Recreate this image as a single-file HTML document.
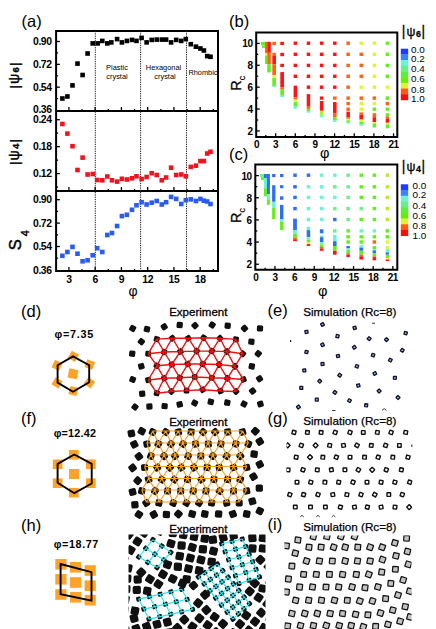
<!DOCTYPE html>
<html><head><meta charset="utf-8"><style>
html,body{margin:0;padding:0;background:#fff;}
svg{display:block;}
</style></head><body>
<svg width="436" height="629" viewBox="0 0 436 629">
<rect width="436" height="629" fill="#fff"/>
<text x="21.50" y="27.00" font-family="Liberation Sans" font-size="16.5" font-weight="normal" text-anchor="start" fill="#000" >(a)</text>
<path d="M56.1 271 V31 H218.0 V271 Z" fill="none" stroke="#000" stroke-width="2"/>
<line x1="56.10" y1="111.00" x2="218.00" y2="111.00" stroke="#000" stroke-width="2" />
<line x1="56.10" y1="191.00" x2="218.00" y2="191.00" stroke="#000" stroke-width="2" />
<line x1="95.30" y1="31.00" x2="95.30" y2="271.00" stroke="#222" stroke-width="1" stroke-dasharray="1.3 1"/>
<line x1="140.60" y1="31.00" x2="140.60" y2="271.00" stroke="#222" stroke-width="1" stroke-dasharray="1.3 1"/>
<line x1="186.50" y1="31.00" x2="186.50" y2="271.00" stroke="#222" stroke-width="1" stroke-dasharray="1.3 1"/>
<line x1="68.90" y1="111.00" x2="68.90" y2="107.00" stroke="#000" stroke-width="1.3" />
<line x1="95.16" y1="111.00" x2="95.16" y2="107.00" stroke="#000" stroke-width="1.3" />
<line x1="121.42" y1="111.00" x2="121.42" y2="107.00" stroke="#000" stroke-width="1.3" />
<line x1="147.68" y1="111.00" x2="147.68" y2="107.00" stroke="#000" stroke-width="1.3" />
<line x1="173.94" y1="111.00" x2="173.94" y2="107.00" stroke="#000" stroke-width="1.3" />
<line x1="200.20" y1="111.00" x2="200.20" y2="107.00" stroke="#000" stroke-width="1.3" />
<line x1="82.03" y1="111.00" x2="82.03" y2="109.00" stroke="#000" stroke-width="1.3" />
<line x1="108.29" y1="111.00" x2="108.29" y2="109.00" stroke="#000" stroke-width="1.3" />
<line x1="134.55" y1="111.00" x2="134.55" y2="109.00" stroke="#000" stroke-width="1.3" />
<line x1="160.81" y1="111.00" x2="160.81" y2="109.00" stroke="#000" stroke-width="1.3" />
<line x1="187.07" y1="111.00" x2="187.07" y2="109.00" stroke="#000" stroke-width="1.3" />
<line x1="213.32" y1="111.00" x2="213.32" y2="109.00" stroke="#000" stroke-width="1.3" />
<line x1="68.90" y1="191.00" x2="68.90" y2="187.00" stroke="#000" stroke-width="1.3" />
<line x1="95.16" y1="191.00" x2="95.16" y2="187.00" stroke="#000" stroke-width="1.3" />
<line x1="121.42" y1="191.00" x2="121.42" y2="187.00" stroke="#000" stroke-width="1.3" />
<line x1="147.68" y1="191.00" x2="147.68" y2="187.00" stroke="#000" stroke-width="1.3" />
<line x1="173.94" y1="191.00" x2="173.94" y2="187.00" stroke="#000" stroke-width="1.3" />
<line x1="200.20" y1="191.00" x2="200.20" y2="187.00" stroke="#000" stroke-width="1.3" />
<line x1="82.03" y1="191.00" x2="82.03" y2="189.00" stroke="#000" stroke-width="1.3" />
<line x1="108.29" y1="191.00" x2="108.29" y2="189.00" stroke="#000" stroke-width="1.3" />
<line x1="134.55" y1="191.00" x2="134.55" y2="189.00" stroke="#000" stroke-width="1.3" />
<line x1="160.81" y1="191.00" x2="160.81" y2="189.00" stroke="#000" stroke-width="1.3" />
<line x1="187.07" y1="191.00" x2="187.07" y2="189.00" stroke="#000" stroke-width="1.3" />
<line x1="213.32" y1="191.00" x2="213.32" y2="189.00" stroke="#000" stroke-width="1.3" />
<line x1="68.90" y1="271.00" x2="68.90" y2="267.00" stroke="#000" stroke-width="1.3" />
<line x1="95.16" y1="271.00" x2="95.16" y2="267.00" stroke="#000" stroke-width="1.3" />
<line x1="121.42" y1="271.00" x2="121.42" y2="267.00" stroke="#000" stroke-width="1.3" />
<line x1="147.68" y1="271.00" x2="147.68" y2="267.00" stroke="#000" stroke-width="1.3" />
<line x1="173.94" y1="271.00" x2="173.94" y2="267.00" stroke="#000" stroke-width="1.3" />
<line x1="200.20" y1="271.00" x2="200.20" y2="267.00" stroke="#000" stroke-width="1.3" />
<line x1="82.03" y1="271.00" x2="82.03" y2="269.00" stroke="#000" stroke-width="1.3" />
<line x1="108.29" y1="271.00" x2="108.29" y2="269.00" stroke="#000" stroke-width="1.3" />
<line x1="134.55" y1="271.00" x2="134.55" y2="269.00" stroke="#000" stroke-width="1.3" />
<line x1="160.81" y1="271.00" x2="160.81" y2="269.00" stroke="#000" stroke-width="1.3" />
<line x1="187.07" y1="271.00" x2="187.07" y2="269.00" stroke="#000" stroke-width="1.3" />
<line x1="213.32" y1="271.00" x2="213.32" y2="269.00" stroke="#000" stroke-width="1.3" />
<line x1="56.10" y1="41.50" x2="59.90" y2="41.50" stroke="#000" stroke-width="1.3" />
<text x="51.50" y="45.10" font-family="Liberation Sans" font-size="10.4" font-weight="bold" text-anchor="end" fill="#000" letter-spacing="-0.45">0.90</text>
<line x1="56.10" y1="64.35" x2="59.90" y2="64.35" stroke="#000" stroke-width="1.3" />
<text x="51.50" y="67.95" font-family="Liberation Sans" font-size="10.4" font-weight="bold" text-anchor="end" fill="#000" letter-spacing="-0.45">0.72</text>
<line x1="56.10" y1="87.20" x2="59.90" y2="87.20" stroke="#000" stroke-width="1.3" />
<text x="51.50" y="90.80" font-family="Liberation Sans" font-size="10.4" font-weight="bold" text-anchor="end" fill="#000" letter-spacing="-0.45">0.54</text>
<line x1="56.10" y1="52.92" x2="58.10" y2="52.92" stroke="#000" stroke-width="1.3" />
<line x1="56.10" y1="75.78" x2="58.10" y2="75.78" stroke="#000" stroke-width="1.3" />
<line x1="56.10" y1="98.62" x2="58.10" y2="98.62" stroke="#000" stroke-width="1.3" />
<text x="51.50" y="113.30" font-family="Liberation Sans" font-size="10.4" font-weight="bold" text-anchor="end" fill="#000" letter-spacing="-0.45">0.36</text>
<line x1="56.10" y1="119.70" x2="59.90" y2="119.70" stroke="#000" stroke-width="1.3" />
<text x="51.50" y="123.30" font-family="Liberation Sans" font-size="10.4" font-weight="bold" text-anchor="end" fill="#000" letter-spacing="-0.45">0.24</text>
<line x1="56.10" y1="146.65" x2="59.90" y2="146.65" stroke="#000" stroke-width="1.3" />
<text x="51.50" y="150.25" font-family="Liberation Sans" font-size="10.4" font-weight="bold" text-anchor="end" fill="#000" letter-spacing="-0.45">0.18</text>
<line x1="56.10" y1="173.60" x2="59.90" y2="173.60" stroke="#000" stroke-width="1.3" />
<text x="51.50" y="177.20" font-family="Liberation Sans" font-size="10.4" font-weight="bold" text-anchor="end" fill="#000" letter-spacing="-0.45">0.12</text>
<line x1="56.10" y1="133.18" x2="58.10" y2="133.18" stroke="#000" stroke-width="1.3" />
<line x1="56.10" y1="160.12" x2="58.10" y2="160.12" stroke="#000" stroke-width="1.3" />
<line x1="56.10" y1="187.07" x2="58.10" y2="187.07" stroke="#000" stroke-width="1.3" />
<line x1="56.10" y1="199.70" x2="59.90" y2="199.70" stroke="#000" stroke-width="1.3" />
<text x="51.50" y="203.30" font-family="Liberation Sans" font-size="10.4" font-weight="bold" text-anchor="end" fill="#000" letter-spacing="-0.45">0.90</text>
<line x1="56.10" y1="223.10" x2="59.90" y2="223.10" stroke="#000" stroke-width="1.3" />
<text x="51.50" y="226.70" font-family="Liberation Sans" font-size="10.4" font-weight="bold" text-anchor="end" fill="#000" letter-spacing="-0.45">0.72</text>
<line x1="56.10" y1="246.50" x2="59.90" y2="246.50" stroke="#000" stroke-width="1.3" />
<text x="51.50" y="250.10" font-family="Liberation Sans" font-size="10.4" font-weight="bold" text-anchor="end" fill="#000" letter-spacing="-0.45">0.54</text>
<text x="51.50" y="273.50" font-family="Liberation Sans" font-size="10.4" font-weight="bold" text-anchor="end" fill="#000" letter-spacing="-0.45">0.36</text>
<line x1="56.10" y1="211.40" x2="58.10" y2="211.40" stroke="#000" stroke-width="1.3" />
<line x1="56.10" y1="234.80" x2="58.10" y2="234.80" stroke="#000" stroke-width="1.3" />
<line x1="56.10" y1="258.20" x2="58.10" y2="258.20" stroke="#000" stroke-width="1.3" />
<text x="68.90" y="282.80" font-family="Liberation Sans" font-size="10.4" font-weight="bold" text-anchor="middle" fill="#000" letter-spacing="-0.45">3</text>
<text x="95.16" y="282.80" font-family="Liberation Sans" font-size="10.4" font-weight="bold" text-anchor="middle" fill="#000" letter-spacing="-0.45">6</text>
<text x="121.42" y="282.80" font-family="Liberation Sans" font-size="10.4" font-weight="bold" text-anchor="middle" fill="#000" letter-spacing="-0.45">9</text>
<text x="147.68" y="282.80" font-family="Liberation Sans" font-size="10.4" font-weight="bold" text-anchor="middle" fill="#000" letter-spacing="-0.45">12</text>
<text x="173.94" y="282.80" font-family="Liberation Sans" font-size="10.4" font-weight="bold" text-anchor="middle" fill="#000" letter-spacing="-0.45">15</text>
<text x="200.20" y="282.80" font-family="Liberation Sans" font-size="10.4" font-weight="bold" text-anchor="middle" fill="#000" letter-spacing="-0.45">18</text>
<text x="133.00" y="295.50" font-family="Liberation Sans" font-size="14" font-weight="normal" text-anchor="middle" fill="#000" >φ</text>
<text transform="translate(18.8,88.5) rotate(-90)" font-family="Liberation Sans" font-size="13.5" letter-spacing="1.1" stroke="#000" stroke-width="0.35">|<tspan font-size="14.5">ψ</tspan><tspan font-size="9.5" font-weight="bold">6</tspan>|</text>
<text transform="translate(18.8,165) rotate(-90)" font-family="Liberation Sans" font-size="13.5" letter-spacing="1.1" stroke="#000" stroke-width="0.35">|<tspan font-size="14.5">ψ</tspan><tspan font-size="9.5" font-weight="bold">4</tspan>|</text>
<text transform="translate(20.8,250.3) rotate(-90)" font-family="Liberation Sans" font-size="16.5" stroke="#000" stroke-width="0.45">S<tspan font-size="10.5" dx="3" dy="8.2">4</tspan></text>
<text x="117.00" y="69.50" font-family="Liberation Sans" font-size="7.4" font-weight="normal" text-anchor="middle" fill="#000" >Plastic</text>
<text x="117.00" y="79.00" font-family="Liberation Sans" font-size="7.4" font-weight="normal" text-anchor="middle" fill="#000" >crystal</text>
<text x="163.50" y="70.30" font-family="Liberation Sans" font-size="7.4" font-weight="normal" text-anchor="middle" fill="#000" >Hexagonal</text>
<text x="165.00" y="79.20" font-family="Liberation Sans" font-size="7.4" font-weight="normal" text-anchor="middle" fill="#000" >crystal</text>
<text x="203.00" y="74.50" font-family="Liberation Sans" font-size="7.4" font-weight="normal" text-anchor="middle" fill="#000" >Rhombic</text>
<rect x="60.10" y="96.20" width="4.60" height="4.60" fill="#000" />
<rect x="65.10" y="94.20" width="4.60" height="4.60" fill="#000" />
<rect x="70.20" y="83.10" width="4.60" height="4.60" fill="#000" />
<rect x="75.20" y="61.30" width="4.60" height="4.60" fill="#000" />
<rect x="80.30" y="72.70" width="4.60" height="4.60" fill="#000" />
<rect x="85.30" y="51.20" width="4.60" height="4.60" fill="#000" />
<rect x="90.40" y="41.10" width="4.60" height="4.60" fill="#000" />
<rect x="95.40" y="41.10" width="4.60" height="4.60" fill="#000" />
<rect x="100.00" y="38.60" width="4.60" height="4.60" fill="#000" />
<rect x="105.00" y="41.10" width="4.60" height="4.60" fill="#000" />
<rect x="109.00" y="40.10" width="4.60" height="4.60" fill="#000" />
<rect x="114.80" y="36.80" width="4.60" height="4.60" fill="#000" />
<rect x="119.60" y="40.10" width="4.60" height="4.60" fill="#000" />
<rect x="124.60" y="38.60" width="4.60" height="4.60" fill="#000" />
<rect x="129.70" y="37.60" width="4.60" height="4.60" fill="#000" />
<rect x="134.20" y="38.60" width="4.60" height="4.60" fill="#000" />
<rect x="139.30" y="35.60" width="4.60" height="4.60" fill="#000" />
<rect x="144.30" y="40.10" width="4.60" height="4.60" fill="#000" />
<rect x="149.40" y="37.60" width="4.60" height="4.60" fill="#000" />
<rect x="154.40" y="37.30" width="4.60" height="4.60" fill="#000" />
<rect x="159.50" y="37.30" width="4.60" height="4.60" fill="#000" />
<rect x="163.80" y="37.30" width="4.60" height="4.60" fill="#000" />
<rect x="168.80" y="40.10" width="4.60" height="4.60" fill="#000" />
<rect x="173.90" y="37.60" width="4.60" height="4.60" fill="#000" />
<rect x="178.90" y="38.60" width="4.60" height="4.60" fill="#000" />
<rect x="183.50" y="36.80" width="4.60" height="4.60" fill="#000" />
<rect x="188.50" y="41.90" width="4.60" height="4.60" fill="#000" />
<rect x="193.60" y="44.40" width="4.60" height="4.60" fill="#000" />
<rect x="198.10" y="46.20" width="4.60" height="4.60" fill="#000" />
<rect x="201.60" y="48.20" width="4.60" height="4.60" fill="#000" />
<rect x="204.90" y="53.80" width="4.60" height="4.60" fill="#000" />
<rect x="208.20" y="54.50" width="4.60" height="4.60" fill="#000" />
<rect x="60.10" y="121.70" width="4.60" height="4.60" fill="#f0141e" />
<rect x="65.10" y="131.30" width="4.60" height="4.60" fill="#f0141e" />
<rect x="70.20" y="143.90" width="4.60" height="4.60" fill="#f0141e" />
<rect x="80.30" y="155.30" width="4.60" height="4.60" fill="#f0141e" />
<rect x="75.20" y="167.70" width="4.60" height="4.60" fill="#f0141e" />
<rect x="85.30" y="172.20" width="4.60" height="4.60" fill="#f0141e" />
<rect x="90.40" y="171.70" width="4.60" height="4.60" fill="#f0141e" />
<rect x="94.90" y="177.70" width="4.60" height="4.60" fill="#f0141e" />
<rect x="100.00" y="178.00" width="4.60" height="4.60" fill="#f0141e" />
<rect x="105.00" y="174.20" width="4.60" height="4.60" fill="#f0141e" />
<rect x="109.70" y="178.00" width="4.60" height="4.60" fill="#f0141e" />
<rect x="114.80" y="179.30" width="4.60" height="4.60" fill="#f0141e" />
<rect x="119.60" y="176.50" width="4.60" height="4.60" fill="#f0141e" />
<rect x="124.60" y="177.20" width="4.60" height="4.60" fill="#f0141e" />
<rect x="129.70" y="176.00" width="4.60" height="4.60" fill="#f0141e" />
<rect x="134.20" y="174.00" width="4.60" height="4.60" fill="#f0141e" />
<rect x="139.30" y="176.70" width="4.60" height="4.60" fill="#f0141e" />
<rect x="144.30" y="174.70" width="4.60" height="4.60" fill="#f0141e" />
<rect x="149.40" y="170.90" width="4.60" height="4.60" fill="#f0141e" />
<rect x="154.40" y="172.70" width="4.60" height="4.60" fill="#f0141e" />
<rect x="159.50" y="178.00" width="4.60" height="4.60" fill="#f0141e" />
<rect x="163.80" y="175.20" width="4.60" height="4.60" fill="#f0141e" />
<rect x="168.80" y="165.40" width="4.60" height="4.60" fill="#f0141e" />
<rect x="173.90" y="172.70" width="4.60" height="4.60" fill="#f0141e" />
<rect x="178.90" y="172.20" width="4.60" height="4.60" fill="#f0141e" />
<rect x="183.50" y="174.00" width="4.60" height="4.60" fill="#f0141e" />
<rect x="188.50" y="164.60" width="4.60" height="4.60" fill="#f0141e" />
<rect x="193.60" y="163.40" width="4.60" height="4.60" fill="#f0141e" />
<rect x="198.10" y="158.80" width="4.60" height="4.60" fill="#f0141e" />
<rect x="201.60" y="158.80" width="4.60" height="4.60" fill="#f0141e" />
<rect x="204.90" y="151.20" width="4.60" height="4.60" fill="#f0141e" />
<rect x="208.20" y="149.50" width="4.60" height="4.60" fill="#f0141e" />
<rect x="60.10" y="253.50" width="4.60" height="4.60" fill="#2a5cf0" />
<rect x="65.10" y="249.70" width="4.60" height="4.60" fill="#2a5cf0" />
<rect x="70.20" y="244.60" width="4.60" height="4.60" fill="#2a5cf0" />
<rect x="75.20" y="251.40" width="4.60" height="4.60" fill="#2a5cf0" />
<rect x="80.30" y="259.00" width="4.60" height="4.60" fill="#2a5cf0" />
<rect x="85.30" y="258.00" width="4.60" height="4.60" fill="#2a5cf0" />
<rect x="90.40" y="253.00" width="4.60" height="4.60" fill="#2a5cf0" />
<rect x="94.90" y="245.90" width="4.60" height="4.60" fill="#2a5cf0" />
<rect x="100.00" y="249.70" width="4.60" height="4.60" fill="#2a5cf0" />
<rect x="105.00" y="232.70" width="4.60" height="4.60" fill="#2a5cf0" />
<rect x="109.70" y="230.70" width="4.60" height="4.60" fill="#2a5cf0" />
<rect x="114.80" y="223.70" width="4.60" height="4.60" fill="#2a5cf0" />
<rect x="119.60" y="213.80" width="4.60" height="4.60" fill="#2a5cf0" />
<rect x="124.60" y="212.50" width="4.60" height="4.60" fill="#2a5cf0" />
<rect x="129.70" y="207.50" width="4.60" height="4.60" fill="#2a5cf0" />
<rect x="134.20" y="203.00" width="4.60" height="4.60" fill="#2a5cf0" />
<rect x="139.30" y="199.90" width="4.60" height="4.60" fill="#2a5cf0" />
<rect x="144.30" y="202.20" width="4.60" height="4.60" fill="#2a5cf0" />
<rect x="149.40" y="200.40" width="4.60" height="4.60" fill="#2a5cf0" />
<rect x="154.40" y="198.70" width="4.60" height="4.60" fill="#2a5cf0" />
<rect x="159.50" y="202.20" width="4.60" height="4.60" fill="#2a5cf0" />
<rect x="163.80" y="199.90" width="4.60" height="4.60" fill="#2a5cf0" />
<rect x="168.80" y="194.60" width="4.60" height="4.60" fill="#2a5cf0" />
<rect x="173.90" y="196.60" width="4.60" height="4.60" fill="#2a5cf0" />
<rect x="178.90" y="201.70" width="4.60" height="4.60" fill="#2a5cf0" />
<rect x="183.50" y="197.90" width="4.60" height="4.60" fill="#2a5cf0" />
<rect x="188.50" y="197.10" width="4.60" height="4.60" fill="#2a5cf0" />
<rect x="193.60" y="198.70" width="4.60" height="4.60" fill="#2a5cf0" />
<rect x="198.10" y="196.60" width="4.60" height="4.60" fill="#2a5cf0" />
<rect x="201.60" y="198.40" width="4.60" height="4.60" fill="#2a5cf0" />
<rect x="204.90" y="199.20" width="4.60" height="4.60" fill="#2a5cf0" />
<rect x="208.20" y="201.70" width="4.60" height="4.60" fill="#2a5cf0" />
<path d="M256.2 136.9 V32.5 H397.3 V136.9 Z" fill="none" stroke="#000" stroke-width="2"/>
<line x1="256.20" y1="130.92" x2="259.80" y2="130.92" stroke="#000" stroke-width="1.3" />
<text x="252.60" y="134.82" font-family="Liberation Sans" font-size="10" font-weight="bold" text-anchor="end" fill="#000" letter-spacing="-0.45">2</text>
<line x1="256.20" y1="119.98" x2="258.20" y2="119.98" stroke="#000" stroke-width="1.3" />
<line x1="256.20" y1="109.04" x2="259.80" y2="109.04" stroke="#000" stroke-width="1.3" />
<text x="252.60" y="112.94" font-family="Liberation Sans" font-size="10" font-weight="bold" text-anchor="end" fill="#000" letter-spacing="-0.45">4</text>
<line x1="256.20" y1="98.10" x2="258.20" y2="98.10" stroke="#000" stroke-width="1.3" />
<line x1="256.20" y1="87.16" x2="259.80" y2="87.16" stroke="#000" stroke-width="1.3" />
<text x="252.60" y="91.06" font-family="Liberation Sans" font-size="10" font-weight="bold" text-anchor="end" fill="#000" letter-spacing="-0.45">6</text>
<line x1="256.20" y1="76.22" x2="258.20" y2="76.22" stroke="#000" stroke-width="1.3" />
<line x1="256.20" y1="65.28" x2="259.80" y2="65.28" stroke="#000" stroke-width="1.3" />
<text x="252.60" y="69.18" font-family="Liberation Sans" font-size="10" font-weight="bold" text-anchor="end" fill="#000" letter-spacing="-0.45">8</text>
<line x1="256.20" y1="54.34" x2="258.20" y2="54.34" stroke="#000" stroke-width="1.3" />
<line x1="256.20" y1="43.40" x2="259.80" y2="43.40" stroke="#000" stroke-width="1.3" />
<text x="252.60" y="47.30" font-family="Liberation Sans" font-size="10" font-weight="bold" text-anchor="end" fill="#000" letter-spacing="-0.45">10</text>
<line x1="275.65" y1="136.90" x2="275.65" y2="133.30" stroke="#000" stroke-width="1.3" />
<line x1="295.30" y1="136.90" x2="295.30" y2="133.30" stroke="#000" stroke-width="1.3" />
<line x1="314.95" y1="136.90" x2="314.95" y2="133.30" stroke="#000" stroke-width="1.3" />
<line x1="334.60" y1="136.90" x2="334.60" y2="133.30" stroke="#000" stroke-width="1.3" />
<line x1="354.25" y1="136.90" x2="354.25" y2="133.30" stroke="#000" stroke-width="1.3" />
<line x1="373.90" y1="136.90" x2="373.90" y2="133.30" stroke="#000" stroke-width="1.3" />
<line x1="393.55" y1="136.90" x2="393.55" y2="133.30" stroke="#000" stroke-width="1.3" />
<line x1="265.82" y1="136.90" x2="265.82" y2="134.90" stroke="#000" stroke-width="1.3" />
<line x1="285.48" y1="136.90" x2="285.48" y2="134.90" stroke="#000" stroke-width="1.3" />
<line x1="305.12" y1="136.90" x2="305.12" y2="134.90" stroke="#000" stroke-width="1.3" />
<line x1="324.77" y1="136.90" x2="324.77" y2="134.90" stroke="#000" stroke-width="1.3" />
<line x1="344.43" y1="136.90" x2="344.43" y2="134.90" stroke="#000" stroke-width="1.3" />
<line x1="364.07" y1="136.90" x2="364.07" y2="134.90" stroke="#000" stroke-width="1.3" />
<line x1="383.73" y1="136.90" x2="383.73" y2="134.90" stroke="#000" stroke-width="1.3" />
<text x="256.50" y="148.10" font-family="Liberation Sans" font-size="10" font-weight="bold" text-anchor="middle" fill="#000" letter-spacing="-0.45">0</text>
<text x="275.65" y="148.10" font-family="Liberation Sans" font-size="10" font-weight="bold" text-anchor="middle" fill="#000" letter-spacing="-0.45">3</text>
<text x="295.30" y="148.10" font-family="Liberation Sans" font-size="10" font-weight="bold" text-anchor="middle" fill="#000" letter-spacing="-0.45">6</text>
<text x="314.95" y="148.10" font-family="Liberation Sans" font-size="10" font-weight="bold" text-anchor="middle" fill="#000" letter-spacing="-0.45">9</text>
<text x="334.60" y="148.10" font-family="Liberation Sans" font-size="10" font-weight="bold" text-anchor="middle" fill="#000" letter-spacing="-0.45">12</text>
<text x="354.25" y="148.10" font-family="Liberation Sans" font-size="10" font-weight="bold" text-anchor="middle" fill="#000" letter-spacing="-0.45">15</text>
<text x="373.90" y="148.10" font-family="Liberation Sans" font-size="10" font-weight="bold" text-anchor="middle" fill="#000" letter-spacing="-0.45">18</text>
<text x="393.55" y="148.10" font-family="Liberation Sans" font-size="10" font-weight="bold" text-anchor="middle" fill="#000" letter-spacing="-0.45">21</text>
<text x="229.00" y="27.00" font-family="Liberation Sans" font-size="16.5" font-weight="normal" text-anchor="start" fill="#000" >(b)</text>
<text x="324.60" y="158.10" font-family="Liberation Sans" font-size="14.5" font-weight="normal" text-anchor="middle" fill="#000" >φ</text>
<text transform="translate(240.5,90.7) rotate(-90)" font-family="Liberation Sans" font-size="14.5" stroke="#000" stroke-width="0.3">R<tspan font-size="9" stroke-width="0.15" dx="0" dy="4.3">c</tspan></text>
<rect x="400.80" y="48.70" width="7.40" height="5.99" fill="#1e3cff" />
<rect x="400.80" y="54.39" width="7.40" height="5.99" fill="#3c82ff" />
<rect x="400.80" y="60.08" width="7.40" height="5.99" fill="#66f7d2" />
<rect x="400.80" y="65.77" width="7.40" height="5.99" fill="#66f08c" />
<rect x="400.80" y="71.46" width="7.40" height="5.99" fill="#5af040" />
<rect x="400.80" y="77.14" width="7.40" height="5.99" fill="#64f000" />
<rect x="400.80" y="82.83" width="7.40" height="5.99" fill="#dcf532" />
<rect x="400.80" y="88.52" width="7.40" height="5.99" fill="#ff5a14" />
<rect x="400.80" y="94.21" width="7.40" height="5.99" fill="#ff0a0a" />
<text x="411.00" y="53.00" font-family="Liberation Sans" font-size="9.9" font-weight="normal" text-anchor="start" fill="#000" >0.0</text>
<text x="411.00" y="62.10" font-family="Liberation Sans" font-size="9.9" font-weight="normal" text-anchor="start" fill="#000" >0.2</text>
<text x="411.00" y="72.40" font-family="Liberation Sans" font-size="9.9" font-weight="normal" text-anchor="start" fill="#000" >0.4</text>
<text x="411.00" y="82.20" font-family="Liberation Sans" font-size="9.9" font-weight="normal" text-anchor="start" fill="#000" >0.6</text>
<text x="411.00" y="92.50" font-family="Liberation Sans" font-size="9.9" font-weight="normal" text-anchor="start" fill="#000" >0.8</text>
<text x="411.00" y="101.80" font-family="Liberation Sans" font-size="9.9" font-weight="normal" text-anchor="start" fill="#000" >1.0</text>
<text x="401.8" y="35.5" font-family="Liberation Sans" font-size="13.8" stroke="#000" stroke-width="0.3">|<tspan font-size="12.5" dx="1.0">ψ</tspan><tspan font-size="8.8" font-weight="bold" dx="0.8" dy="1.2">6</tspan><tspan dx="0.6" dy="-1.2">|</tspan></text>
<path d="M255.3 269.7 V164.5 H397.3 V269.7 Z" fill="none" stroke="#000" stroke-width="2"/>
<line x1="255.30" y1="264.24" x2="258.90" y2="264.24" stroke="#000" stroke-width="1.3" />
<text x="251.70" y="268.14" font-family="Liberation Sans" font-size="10" font-weight="bold" text-anchor="end" fill="#000" letter-spacing="-0.45">2</text>
<line x1="255.30" y1="253.16" x2="257.30" y2="253.16" stroke="#000" stroke-width="1.3" />
<line x1="255.30" y1="242.08" x2="258.90" y2="242.08" stroke="#000" stroke-width="1.3" />
<text x="251.70" y="245.98" font-family="Liberation Sans" font-size="10" font-weight="bold" text-anchor="end" fill="#000" letter-spacing="-0.45">4</text>
<line x1="255.30" y1="231.00" x2="257.30" y2="231.00" stroke="#000" stroke-width="1.3" />
<line x1="255.30" y1="219.92" x2="258.90" y2="219.92" stroke="#000" stroke-width="1.3" />
<text x="251.70" y="223.82" font-family="Liberation Sans" font-size="10" font-weight="bold" text-anchor="end" fill="#000" letter-spacing="-0.45">6</text>
<line x1="255.30" y1="208.84" x2="257.30" y2="208.84" stroke="#000" stroke-width="1.3" />
<line x1="255.30" y1="197.76" x2="258.90" y2="197.76" stroke="#000" stroke-width="1.3" />
<text x="251.70" y="201.66" font-family="Liberation Sans" font-size="10" font-weight="bold" text-anchor="end" fill="#000" letter-spacing="-0.45">8</text>
<line x1="255.30" y1="186.68" x2="257.30" y2="186.68" stroke="#000" stroke-width="1.3" />
<line x1="255.30" y1="175.60" x2="258.90" y2="175.60" stroke="#000" stroke-width="1.3" />
<text x="251.70" y="179.50" font-family="Liberation Sans" font-size="10" font-weight="bold" text-anchor="end" fill="#000" letter-spacing="-0.45">10</text>
<line x1="274.95" y1="269.70" x2="274.95" y2="266.10" stroke="#000" stroke-width="1.3" />
<line x1="294.60" y1="269.70" x2="294.60" y2="266.10" stroke="#000" stroke-width="1.3" />
<line x1="314.25" y1="269.70" x2="314.25" y2="266.10" stroke="#000" stroke-width="1.3" />
<line x1="333.90" y1="269.70" x2="333.90" y2="266.10" stroke="#000" stroke-width="1.3" />
<line x1="353.55" y1="269.70" x2="353.55" y2="266.10" stroke="#000" stroke-width="1.3" />
<line x1="373.20" y1="269.70" x2="373.20" y2="266.10" stroke="#000" stroke-width="1.3" />
<line x1="392.85" y1="269.70" x2="392.85" y2="266.10" stroke="#000" stroke-width="1.3" />
<line x1="265.12" y1="269.70" x2="265.12" y2="267.70" stroke="#000" stroke-width="1.3" />
<line x1="284.78" y1="269.70" x2="284.78" y2="267.70" stroke="#000" stroke-width="1.3" />
<line x1="304.43" y1="269.70" x2="304.43" y2="267.70" stroke="#000" stroke-width="1.3" />
<line x1="324.07" y1="269.70" x2="324.07" y2="267.70" stroke="#000" stroke-width="1.3" />
<line x1="343.73" y1="269.70" x2="343.73" y2="267.70" stroke="#000" stroke-width="1.3" />
<line x1="363.38" y1="269.70" x2="363.38" y2="267.70" stroke="#000" stroke-width="1.3" />
<line x1="383.03" y1="269.70" x2="383.03" y2="267.70" stroke="#000" stroke-width="1.3" />
<text x="255.80" y="280.90" font-family="Liberation Sans" font-size="10" font-weight="bold" text-anchor="middle" fill="#000" letter-spacing="-0.45">0</text>
<text x="274.95" y="280.90" font-family="Liberation Sans" font-size="10" font-weight="bold" text-anchor="middle" fill="#000" letter-spacing="-0.45">3</text>
<text x="294.60" y="280.90" font-family="Liberation Sans" font-size="10" font-weight="bold" text-anchor="middle" fill="#000" letter-spacing="-0.45">6</text>
<text x="314.25" y="280.90" font-family="Liberation Sans" font-size="10" font-weight="bold" text-anchor="middle" fill="#000" letter-spacing="-0.45">9</text>
<text x="333.90" y="280.90" font-family="Liberation Sans" font-size="10" font-weight="bold" text-anchor="middle" fill="#000" letter-spacing="-0.45">12</text>
<text x="353.55" y="280.90" font-family="Liberation Sans" font-size="10" font-weight="bold" text-anchor="middle" fill="#000" letter-spacing="-0.45">15</text>
<text x="373.20" y="280.90" font-family="Liberation Sans" font-size="10" font-weight="bold" text-anchor="middle" fill="#000" letter-spacing="-0.45">18</text>
<text x="392.85" y="280.90" font-family="Liberation Sans" font-size="10" font-weight="bold" text-anchor="middle" fill="#000" letter-spacing="-0.45">21</text>
<text x="229.00" y="159.50" font-family="Liberation Sans" font-size="16.5" font-weight="normal" text-anchor="start" fill="#000" >(c)</text>
<text x="322.70" y="295.70" font-family="Liberation Sans" font-size="14.5" font-weight="normal" text-anchor="middle" fill="#000" >φ</text>
<text transform="translate(241,223) rotate(-90)" font-family="Liberation Sans" font-size="14.5" stroke="#000" stroke-width="0.3">R<tspan font-size="9" stroke-width="0.15" dx="0" dy="4.3">c</tspan></text>
<rect x="400.80" y="184.30" width="7.40" height="6.01" fill="#1e3cff" />
<rect x="400.80" y="190.01" width="7.40" height="6.01" fill="#3c82ff" />
<rect x="400.80" y="195.72" width="7.40" height="6.01" fill="#66f7d2" />
<rect x="400.80" y="201.43" width="7.40" height="6.01" fill="#66f08c" />
<rect x="400.80" y="207.14" width="7.40" height="6.01" fill="#5af040" />
<rect x="400.80" y="212.86" width="7.40" height="6.01" fill="#64f000" />
<rect x="400.80" y="218.57" width="7.40" height="6.01" fill="#dcf532" />
<rect x="400.80" y="224.28" width="7.40" height="6.01" fill="#ff5a14" />
<rect x="400.80" y="229.99" width="7.40" height="6.01" fill="#ff0a0a" />
<text x="412.60" y="188.90" font-family="Liberation Sans" font-size="9.9" font-weight="normal" text-anchor="start" fill="#000" >0.0</text>
<text x="412.60" y="198.20" font-family="Liberation Sans" font-size="9.9" font-weight="normal" text-anchor="start" fill="#000" >0.2</text>
<text x="412.60" y="209.20" font-family="Liberation Sans" font-size="9.9" font-weight="normal" text-anchor="start" fill="#000" >0.4</text>
<text x="412.60" y="219.20" font-family="Liberation Sans" font-size="9.9" font-weight="normal" text-anchor="start" fill="#000" >0.6</text>
<text x="412.60" y="229.20" font-family="Liberation Sans" font-size="9.9" font-weight="normal" text-anchor="start" fill="#000" >0.8</text>
<text x="412.60" y="239.20" font-family="Liberation Sans" font-size="9.9" font-weight="normal" text-anchor="start" fill="#000" >1.0</text>
<text x="401.8" y="171.10000000000002" font-family="Liberation Sans" font-size="13.8" stroke="#000" stroke-width="0.3">|<tspan font-size="12.5" dx="1.0">ψ</tspan><tspan font-size="8.8" font-weight="bold" dx="0.8" dy="1.2">4</tspan><tspan dx="0.6" dy="-1.2">|</tspan></text>
<rect x="261.00" y="41.80" width="4.00" height="3.50" fill="#64f01e" />
<rect x="262.00" y="45.30" width="3.00" height="2.60" fill="#64f01e" />
<rect x="265.00" y="41.80" width="2.20" height="11.40" fill="#ff6414" />
<rect x="265.00" y="53.20" width="2.20" height="2.60" fill="#e2f532" />
<rect x="265.00" y="55.80" width="2.20" height="8.20" fill="#64f01e" />
<rect x="267.20" y="41.80" width="3.60" height="11.00" fill="#ff1414" />
<rect x="267.20" y="52.80" width="3.60" height="11.60" fill="#ff6414" />
<rect x="267.20" y="64.40" width="3.60" height="8.10" fill="#64f01e" />
<rect x="272.30" y="41.80" width="3.70" height="3.20" fill="#ff6414" />
<rect x="272.30" y="52.80" width="3.70" height="3.20" fill="#ff6414" />
<rect x="272.30" y="56.00" width="3.70" height="8.40" fill="#ff1414" />
<rect x="272.30" y="64.40" width="3.70" height="10.70" fill="#ff6414" />
<rect x="272.30" y="75.10" width="3.70" height="3.00" fill="#e2f532" />
<rect x="272.30" y="78.10" width="3.70" height="7.80" fill="#64f01e" />
<rect x="272.30" y="85.90" width="3.70" height="1.10" fill="#66f7d2" />
<rect x="280.30" y="41.80" width="3.70" height="3.20" fill="#ff1414" />
<rect x="280.30" y="52.80" width="3.70" height="3.40" fill="#ff1414" />
<rect x="280.30" y="63.80" width="3.70" height="3.20" fill="#ff1414" />
<rect x="280.30" y="72.10" width="3.70" height="15.40" fill="#ff1414" />
<rect x="280.30" y="87.50" width="3.70" height="1.50" fill="#ff6414" />
<rect x="280.30" y="89.00" width="3.70" height="6.00" fill="#64f01e" />
<rect x="280.30" y="95.00" width="3.70" height="2.10" fill="#66f7d2" />
<rect x="293.60" y="41.50" width="3.50" height="3.40" fill="#ff1414" />
<rect x="293.60" y="52.60" width="3.50" height="3.40" fill="#ff1414" />
<rect x="293.60" y="63.70" width="3.50" height="3.40" fill="#ff1414" />
<rect x="293.60" y="74.60" width="3.50" height="3.40" fill="#ff1414" />
<rect x="293.60" y="85.70" width="3.50" height="11.60" fill="#ff1414" />
<rect x="293.60" y="97.30" width="3.50" height="2.30" fill="#ff6414" />
<rect x="293.60" y="99.60" width="3.50" height="2.60" fill="#e2f532" />
<rect x="293.60" y="102.20" width="3.50" height="4.00" fill="#64f01e" />
<rect x="293.60" y="106.20" width="3.50" height="2.40" fill="#66f7d2" />
<rect x="306.70" y="41.50" width="3.50" height="3.40" fill="#ff1414" />
<rect x="306.70" y="52.60" width="3.50" height="3.40" fill="#ff1414" />
<rect x="306.70" y="63.70" width="3.50" height="3.40" fill="#ff1414" />
<rect x="306.70" y="74.60" width="3.50" height="3.40" fill="#ff1414" />
<rect x="306.70" y="85.50" width="3.50" height="3.40" fill="#ff1414" />
<rect x="306.70" y="94.10" width="3.50" height="11.90" fill="#ff1414" />
<rect x="306.70" y="106.00" width="3.50" height="2.90" fill="#ff6414" />
<rect x="306.70" y="108.90" width="3.50" height="2.20" fill="#64f01e" />
<rect x="306.70" y="111.10" width="3.50" height="1.60" fill="#66f7d2" />
<rect x="319.90" y="41.50" width="3.50" height="3.40" fill="#ff1414" />
<rect x="319.90" y="52.60" width="3.50" height="3.40" fill="#ff1414" />
<rect x="319.90" y="63.70" width="3.50" height="3.40" fill="#ff1414" />
<rect x="319.90" y="74.60" width="3.50" height="3.40" fill="#ff1414" />
<rect x="319.90" y="85.50" width="3.50" height="3.40" fill="#ff1414" />
<rect x="319.90" y="96.50" width="3.50" height="3.20" fill="#ff1414" />
<rect x="319.90" y="101.00" width="3.50" height="9.80" fill="#ff1414" />
<rect x="319.90" y="110.80" width="3.50" height="4.80" fill="#b4f028" />
<rect x="319.90" y="115.60" width="3.50" height="1.60" fill="#66f7d2" />
<rect x="333.05" y="41.50" width="3.50" height="3.40" fill="#ff1414" />
<rect x="333.05" y="52.60" width="3.50" height="3.40" fill="#ff1414" />
<rect x="333.05" y="63.70" width="3.50" height="3.40" fill="#ff1414" />
<rect x="333.05" y="74.60" width="3.50" height="3.40" fill="#ff1414" />
<rect x="333.05" y="85.50" width="3.50" height="3.40" fill="#ff1414" />
<rect x="333.00" y="96.50" width="3.60" height="3.20" fill="#ff6414" />
<rect x="333.00" y="102.00" width="3.60" height="11.20" fill="#ff1414" />
<rect x="333.00" y="113.20" width="3.60" height="4.00" fill="#ff6414" />
<rect x="333.00" y="117.20" width="3.60" height="3.20" fill="#64f01e" />
<rect x="333.00" y="120.40" width="3.60" height="1.60" fill="#66f7d2" />
<rect x="346.40" y="41.50" width="3.50" height="3.40" fill="#ff6414" />
<rect x="346.40" y="52.60" width="3.50" height="3.40" fill="#ff6414" />
<rect x="346.40" y="63.70" width="3.50" height="3.40" fill="#ff6414" />
<rect x="346.40" y="74.60" width="3.50" height="3.40" fill="#ff6414" />
<rect x="346.40" y="85.50" width="3.50" height="3.40" fill="#ff6414" />
<rect x="346.40" y="96.40" width="3.50" height="3.40" fill="#ff6414" />
<rect x="346.40" y="101.90" width="3.50" height="3.40" fill="#ff6414" />
<rect x="346.40" y="107.50" width="3.50" height="3.40" fill="#ff6414" />
<rect x="346.40" y="111.60" width="3.50" height="5.60" fill="#ff1414" />
<rect x="346.40" y="117.20" width="3.50" height="1.60" fill="#ff6414" />
<rect x="346.40" y="118.80" width="3.50" height="1.60" fill="#e2f532" />
<rect x="346.40" y="120.40" width="3.50" height="1.60" fill="#64f01e" />
<rect x="346.40" y="122.00" width="3.50" height="1.50" fill="#66f7d2" />
<rect x="359.50" y="41.50" width="3.50" height="3.40" fill="#e2f532" />
<rect x="359.50" y="52.60" width="3.50" height="3.40" fill="#ff6414" />
<rect x="359.50" y="63.70" width="3.50" height="3.40" fill="#ff6414" />
<rect x="359.50" y="74.60" width="3.50" height="3.40" fill="#ff6414" />
<rect x="359.50" y="85.50" width="3.50" height="3.40" fill="#e2f532" />
<rect x="359.50" y="96.40" width="3.50" height="3.40" fill="#ff6414" />
<rect x="359.50" y="101.90" width="3.50" height="3.40" fill="#e2f532" />
<rect x="359.50" y="107.50" width="3.50" height="3.40" fill="#e2f532" />
<rect x="359.40" y="112.40" width="3.70" height="2.40" fill="#ff6414" />
<rect x="359.40" y="114.80" width="3.70" height="4.80" fill="#ff1414" />
<rect x="359.40" y="119.60" width="3.70" height="2.40" fill="#e2f532" />
<rect x="359.40" y="122.00" width="3.70" height="2.30" fill="#64f01e" />
<rect x="359.40" y="124.30" width="3.70" height="1.60" fill="#66f7d2" />
<rect x="372.60" y="41.50" width="3.50" height="3.40" fill="#e2f532" />
<rect x="372.60" y="52.60" width="3.50" height="3.40" fill="#e2f532" />
<rect x="372.60" y="63.70" width="3.50" height="3.40" fill="#e2f532" />
<rect x="372.60" y="74.60" width="3.50" height="3.40" fill="#e2f532" />
<rect x="372.60" y="85.50" width="3.50" height="3.40" fill="#e2f532" />
<rect x="372.60" y="96.40" width="3.50" height="3.40" fill="#ff6414" />
<rect x="372.60" y="101.90" width="3.50" height="3.40" fill="#e2f532" />
<rect x="372.60" y="107.50" width="3.50" height="3.40" fill="#64f01e" />
<rect x="372.60" y="113.20" width="3.50" height="4.00" fill="#ff6414" />
<rect x="372.60" y="117.20" width="3.50" height="4.80" fill="#ff1414" />
<rect x="372.60" y="122.00" width="3.50" height="1.50" fill="#e2f532" />
<rect x="372.60" y="123.50" width="3.50" height="4.00" fill="#64f01e" />
<rect x="385.60" y="41.50" width="3.50" height="3.40" fill="#64f01e" />
<rect x="385.60" y="52.60" width="3.50" height="3.40" fill="#64f01e" />
<rect x="385.60" y="63.70" width="3.50" height="3.40" fill="#64f01e" />
<rect x="385.60" y="74.60" width="3.50" height="3.40" fill="#64f01e" />
<rect x="385.60" y="85.50" width="3.50" height="3.40" fill="#e2f532" />
<rect x="385.60" y="96.40" width="3.50" height="3.40" fill="#64f01e" />
<rect x="385.60" y="101.90" width="3.50" height="3.40" fill="#ff6414" />
<rect x="385.60" y="107.50" width="3.50" height="3.40" fill="#64f01e" />
<rect x="385.70" y="113.20" width="3.30" height="3.20" fill="#64f01e" />
<rect x="385.70" y="116.40" width="3.30" height="2.40" fill="#ff6414" />
<rect x="385.70" y="118.80" width="3.30" height="4.00" fill="#ff1414" />
<rect x="385.70" y="122.80" width="3.30" height="1.60" fill="#e2f532" />
<rect x="385.70" y="124.40" width="3.30" height="3.90" fill="#64f01e" />
<rect x="260.00" y="174.00" width="4.00" height="3.10" fill="#6ef08a" />
<rect x="261.00" y="177.10" width="3.00" height="2.80" fill="#64f01e" />
<rect x="264.00" y="174.00" width="2.90" height="4.00" fill="#2f6ff6" />
<rect x="264.00" y="178.00" width="2.90" height="10.20" fill="#66f7d2" />
<rect x="264.00" y="188.20" width="2.90" height="8.10" fill="#64f01e" />
<rect x="266.90" y="174.00" width="3.00" height="20.30" fill="#2f6ff6" />
<rect x="266.90" y="194.30" width="3.00" height="5.00" fill="#66f7d2" />
<rect x="266.90" y="199.30" width="3.00" height="5.60" fill="#64f01e" />
<rect x="272.10" y="174.00" width="3.30" height="3.10" fill="#2f6ff6" />
<rect x="272.10" y="185.20" width="3.30" height="16.60" fill="#2f6ff6" />
<rect x="272.10" y="201.80" width="3.30" height="6.20" fill="#66f7d2" />
<rect x="272.10" y="208.00" width="3.30" height="11.00" fill="#64f01e" />
<rect x="280.00" y="174.00" width="3.40" height="3.10" fill="#2f6ff6" />
<rect x="280.00" y="185.20" width="3.40" height="3.00" fill="#2f6ff6" />
<rect x="280.00" y="196.30" width="3.40" height="3.50" fill="#2f6ff6" />
<rect x="280.00" y="204.90" width="3.40" height="14.10" fill="#2f6ff6" />
<rect x="280.00" y="219.00" width="3.40" height="2.60" fill="#66f7d2" />
<rect x="280.00" y="221.60" width="3.40" height="8.40" fill="#64f01e" />
<rect x="293.25" y="173.50" width="3.50" height="3.40" fill="#2f6ff6" />
<rect x="293.25" y="185.10" width="3.50" height="3.40" fill="#2f6ff6" />
<rect x="293.25" y="195.70" width="3.50" height="3.40" fill="#2f6ff6" />
<rect x="293.25" y="206.90" width="3.50" height="3.40" fill="#2f6ff6" />
<rect x="293.10" y="218.60" width="3.80" height="11.50" fill="#2f6ff6" />
<rect x="293.10" y="230.10" width="3.80" height="3.90" fill="#66f7d2" />
<rect x="293.10" y="234.00" width="3.80" height="4.00" fill="#64f01e" />
<rect x="293.10" y="238.00" width="3.80" height="1.20" fill="#ff6414" />
<rect x="293.10" y="239.20" width="3.80" height="2.00" fill="#ff1414" />
<rect x="306.70" y="173.50" width="3.50" height="3.40" fill="#2f6ff6" />
<rect x="306.70" y="185.10" width="3.50" height="3.40" fill="#66f7d2" />
<rect x="306.70" y="195.70" width="3.50" height="3.40" fill="#66f7d2" />
<rect x="306.70" y="206.90" width="3.50" height="3.40" fill="#66f7d2" />
<rect x="306.70" y="217.80" width="3.50" height="3.40" fill="#66f7d2" />
<rect x="306.70" y="226.90" width="3.50" height="3.20" fill="#66f7d2" />
<rect x="306.70" y="230.10" width="3.50" height="7.10" fill="#2f6ff6" />
<rect x="306.70" y="237.20" width="3.50" height="2.40" fill="#66f7d2" />
<rect x="306.70" y="239.60" width="3.50" height="2.40" fill="#64f01e" />
<rect x="306.70" y="242.00" width="3.50" height="2.10" fill="#e2f532" />
<rect x="306.70" y="244.10" width="3.50" height="1.90" fill="#ff1414" />
<rect x="319.90" y="173.50" width="3.50" height="3.40" fill="#66f7d2" />
<rect x="319.90" y="185.10" width="3.50" height="3.40" fill="#66f7d2" />
<rect x="319.90" y="195.70" width="3.50" height="3.40" fill="#66f7d2" />
<rect x="319.90" y="206.90" width="3.50" height="3.40" fill="#66f7d2" />
<rect x="319.90" y="217.80" width="3.50" height="3.40" fill="#66f7d2" />
<rect x="319.90" y="229.30" width="3.50" height="4.00" fill="#2f6ff6" />
<rect x="319.90" y="235.60" width="3.50" height="1.60" fill="#66f7d2" />
<rect x="319.90" y="237.20" width="3.50" height="4.80" fill="#2f6ff6" />
<rect x="319.90" y="242.00" width="3.50" height="2.40" fill="#66f7d2" />
<rect x="319.90" y="244.40" width="3.50" height="2.40" fill="#64f01e" />
<rect x="319.90" y="246.80" width="3.50" height="1.60" fill="#ff6414" />
<rect x="319.90" y="248.40" width="3.50" height="2.40" fill="#ff1414" />
<rect x="333.05" y="173.50" width="3.50" height="3.40" fill="#66f7d2" />
<rect x="333.05" y="185.10" width="3.50" height="3.40" fill="#6ef08a" />
<rect x="333.05" y="195.70" width="3.50" height="3.40" fill="#66f7d2" />
<rect x="333.05" y="206.90" width="3.50" height="3.40" fill="#6ef08a" />
<rect x="333.05" y="217.80" width="3.50" height="3.40" fill="#2f6ff6" />
<rect x="333.05" y="229.20" width="3.50" height="3.40" fill="#6ef08a" />
<rect x="333.00" y="234.80" width="3.60" height="6.40" fill="#66f7d2" />
<rect x="333.00" y="241.20" width="3.60" height="4.80" fill="#2f6ff6" />
<rect x="333.00" y="246.00" width="3.60" height="4.80" fill="#64f01e" />
<rect x="333.00" y="250.80" width="3.60" height="3.90" fill="#ff1414" />
<rect x="346.40" y="173.50" width="3.50" height="3.40" fill="#6ef08a" />
<rect x="346.40" y="185.10" width="3.50" height="3.40" fill="#6ef08a" />
<rect x="346.40" y="195.70" width="3.50" height="3.40" fill="#6ef08a" />
<rect x="346.40" y="206.90" width="3.50" height="3.40" fill="#6ef08a" />
<rect x="346.40" y="217.80" width="3.50" height="3.40" fill="#6ef08a" />
<rect x="346.40" y="229.20" width="3.50" height="3.40" fill="#64f01e" />
<rect x="346.40" y="235.10" width="3.50" height="3.40" fill="#64f01e" />
<rect x="346.40" y="240.30" width="3.50" height="3.40" fill="#64f01e" />
<rect x="346.40" y="246.00" width="3.50" height="2.40" fill="#2f6ff6" />
<rect x="346.40" y="248.40" width="3.50" height="1.20" fill="#66f7d2" />
<rect x="346.40" y="249.60" width="3.50" height="3.60" fill="#64f01e" />
<rect x="346.40" y="253.20" width="3.50" height="1.30" fill="#ff6414" />
<rect x="346.40" y="254.50" width="3.50" height="2.60" fill="#ff1414" />
<rect x="359.50" y="173.50" width="3.50" height="3.40" fill="#64f01e" />
<rect x="359.50" y="185.10" width="3.50" height="3.40" fill="#64f01e" />
<rect x="359.50" y="195.70" width="3.50" height="3.40" fill="#64f01e" />
<rect x="359.50" y="206.90" width="3.50" height="3.40" fill="#6ef08a" />
<rect x="359.50" y="217.80" width="3.50" height="3.40" fill="#64f01e" />
<rect x="359.50" y="229.20" width="3.50" height="3.40" fill="#66f7d2" />
<rect x="359.50" y="235.10" width="3.50" height="3.40" fill="#64f01e" />
<rect x="359.50" y="240.30" width="3.50" height="3.40" fill="#64f01e" />
<rect x="359.40" y="245.20" width="3.70" height="2.40" fill="#66f7d2" />
<rect x="359.40" y="247.60" width="3.70" height="3.20" fill="#2f6ff6" />
<rect x="359.40" y="250.80" width="3.70" height="3.90" fill="#64f01e" />
<rect x="359.40" y="254.70" width="3.70" height="1.60" fill="#ff6414" />
<rect x="359.40" y="256.30" width="3.70" height="3.20" fill="#ff1414" />
<rect x="372.60" y="173.50" width="3.50" height="3.40" fill="#64f01e" />
<rect x="372.60" y="185.10" width="3.50" height="3.40" fill="#64f01e" />
<rect x="372.60" y="195.70" width="3.50" height="3.40" fill="#64f01e" />
<rect x="372.60" y="206.90" width="3.50" height="3.40" fill="#64f01e" />
<rect x="372.60" y="217.80" width="3.50" height="3.40" fill="#64f01e" />
<rect x="372.60" y="229.20" width="3.50" height="3.40" fill="#66f7d2" />
<rect x="372.60" y="235.10" width="3.50" height="3.40" fill="#64f01e" />
<rect x="372.60" y="240.30" width="3.50" height="3.40" fill="#ff6414" />
<rect x="372.60" y="246.00" width="3.50" height="3.20" fill="#64f01e" />
<rect x="372.60" y="249.20" width="3.50" height="1.20" fill="#66f7d2" />
<rect x="372.60" y="250.40" width="3.50" height="2.80" fill="#2f6ff6" />
<rect x="372.60" y="253.20" width="3.50" height="3.10" fill="#64f01e" />
<rect x="372.60" y="256.30" width="3.50" height="0.80" fill="#ff6414" />
<rect x="372.60" y="257.10" width="3.50" height="3.20" fill="#ff1414" />
<rect x="385.60" y="173.50" width="3.50" height="3.40" fill="#b4f028" />
<rect x="385.60" y="185.10" width="3.50" height="3.40" fill="#b4f028" />
<rect x="385.60" y="195.70" width="3.50" height="3.40" fill="#b4f028" />
<rect x="385.60" y="206.90" width="3.50" height="3.40" fill="#b4f028" />
<rect x="385.60" y="217.80" width="3.50" height="3.40" fill="#b4f028" />
<rect x="385.60" y="229.20" width="3.50" height="3.40" fill="#64f01e" />
<rect x="385.60" y="235.10" width="3.50" height="3.40" fill="#64f01e" />
<rect x="385.60" y="240.30" width="3.50" height="3.40" fill="#e2f532" />
<rect x="385.70" y="246.00" width="3.30" height="3.20" fill="#e2f532" />
<rect x="385.70" y="249.20" width="3.30" height="3.20" fill="#66f7d2" />
<rect x="385.70" y="252.40" width="3.30" height="2.30" fill="#2f6ff6" />
<rect x="385.70" y="254.70" width="3.30" height="3.20" fill="#64f01e" />
<rect x="385.70" y="257.90" width="3.30" height="1.60" fill="#e2f532" />
<rect x="385.70" y="259.50" width="3.30" height="1.60" fill="#ff1414" />
<text x="21.00" y="317.00" font-family="Liberation Sans" font-size="16.5" font-weight="normal" text-anchor="start" fill="#000" >(d)</text>
<text x="21.00" y="424.20" font-family="Liberation Sans" font-size="16.5" font-weight="normal" text-anchor="start" fill="#000" >(f)</text>
<text x="21.00" y="531.30" font-family="Liberation Sans" font-size="16.5" font-weight="normal" text-anchor="start" fill="#000" >(h)</text>
<text x="54.50" y="337.50" font-family="Liberation Sans" font-size="10.8" font-weight="bold" text-anchor="start" fill="#000" letter-spacing="0.75">φ=7.35</text>
<text x="53.70" y="437.00" font-family="Liberation Sans" font-size="10.8" font-weight="bold" text-anchor="start" fill="#000" letter-spacing="0.2">φ=12.42</text>
<text x="53.70" y="548.00" font-family="Liberation Sans" font-size="10.8" font-weight="bold" text-anchor="start" fill="#000" letter-spacing="0.6">φ=18.77</text>
<rect x="69.30" y="352.20" width="8.20" height="8.20" rx="0" fill="#ffa22a" transform="rotate(30.0 73.40 356.30)" />
<rect x="85.70" y="360.50" width="8.20" height="8.20" rx="0" fill="#ffa22a" transform="rotate(20.0 89.80 364.60)" />
<rect x="85.30" y="378.70" width="8.20" height="8.20" rx="0" fill="#ffa22a" transform="rotate(35.0 89.40 382.80)" />
<rect x="69.30" y="386.90" width="8.20" height="8.20" rx="0" fill="#ffa22a" transform="rotate(15.0 73.40 391.00)" />
<rect x="52.90" y="378.70" width="8.20" height="8.20" rx="0" fill="#ffa22a" transform="rotate(30.0 57.00 382.80)" />
<rect x="52.90" y="361.10" width="8.20" height="8.20" rx="0" fill="#ffa22a" transform="rotate(25.0 57.00 365.20)" />
<rect x="68.35" y="369.15" width="9.30" height="9.30" rx="0" fill="#ffa22a" transform="rotate(12.0 73.00 373.80)" />
<path d="M73 356.4 L89.2 365.2 L89.2 382.2 L73 391.7 L57.6 382.6 L57.6 365.2 Z" fill="none" stroke="#000" stroke-width="1.9" stroke-linejoin="miter"/>
<rect x="69.00" y="450.00" width="9.70" height="9.60" fill="#ffa22a" />
<rect x="86.00" y="459.50" width="9.70" height="9.60" fill="#ffa22a" />
<rect x="86.00" y="478.40" width="9.70" height="9.60" fill="#ffa22a" />
<rect x="69.00" y="487.90" width="9.70" height="9.60" fill="#ffa22a" />
<rect x="52.80" y="478.40" width="9.70" height="9.60" fill="#ffa22a" />
<rect x="52.80" y="459.50" width="9.70" height="9.60" fill="#ffa22a" />
<rect x="69.00" y="469.00" width="10.00" height="10.00" fill="#ffa22a" />
<path d="M74.3 454.5 L91.7 463.9 L91.7 483.5 L74.3 493.2 L57.6 482.8 L57.6 463.9 Z" fill="none" stroke="#000" stroke-width="1.9"/>
<rect x="55.30" y="559.00" width="11.20" height="10.60" fill="#ffa22a" />
<rect x="55.30" y="574.00" width="11.20" height="10.60" fill="#ffa22a" />
<rect x="55.30" y="589.20" width="11.20" height="10.60" fill="#ffa22a" />
<rect x="70.00" y="562.00" width="11.20" height="10.60" fill="#ffa22a" />
<rect x="70.00" y="577.20" width="11.20" height="10.60" fill="#ffa22a" />
<rect x="70.00" y="592.00" width="11.20" height="10.60" fill="#ffa22a" />
<rect x="84.60" y="565.20" width="11.20" height="10.60" fill="#ffa22a" />
<rect x="84.60" y="580.40" width="11.20" height="10.60" fill="#ffa22a" />
<rect x="84.60" y="594.90" width="11.20" height="10.60" fill="#ffa22a" />
<path d="M60.6 564 L91.5 572.2 L91.5 600.6 L60.6 594.3 Z" fill="none" stroke="#000" stroke-width="1.9"/>
<text x="198.30" y="316.00" font-family="Liberation Sans" font-size="11.5" font-weight="normal" text-anchor="middle" fill="#000" stroke="#000" stroke-width="0.3">Experiment</text>
<text x="198.30" y="425.50" font-family="Liberation Sans" font-size="11.5" font-weight="normal" text-anchor="middle" fill="#000" stroke="#000" stroke-width="0.3">Experiment</text>
<text x="198.30" y="532.50" font-family="Liberation Sans" font-size="11.5" font-weight="normal" text-anchor="middle" fill="#000" stroke="#000" stroke-width="0.3">Experiment</text>
<text x="267.50" y="316.00" font-family="Liberation Sans" font-size="16.5" font-weight="normal" text-anchor="start" fill="#000" >(e)</text>
<text x="267.50" y="424.00" font-family="Liberation Sans" font-size="16.5" font-weight="normal" text-anchor="start" fill="#000" >(g)</text>
<text x="267.50" y="530.00" font-family="Liberation Sans" font-size="16.5" font-weight="normal" text-anchor="start" fill="#000" >(i)</text>
<text x="349.80" y="315.50" font-family="Liberation Sans" font-size="11.7" font-weight="normal" text-anchor="middle" fill="#000" stroke="#000" stroke-width="0.25">Simulation (Rc=8)</text>
<text x="349.80" y="424.50" font-family="Liberation Sans" font-size="11.7" font-weight="normal" text-anchor="middle" fill="#000" stroke="#000" stroke-width="0.25">Simulation (Rc=8)</text>
<text x="349.80" y="531.00" font-family="Liberation Sans" font-size="11.7" font-weight="normal" text-anchor="middle" fill="#000" stroke="#000" stroke-width="0.25">Simulation (Rc=8)</text>
<rect x="129.60" y="325.30" width="6.20" height="6.20" rx="1.5" fill="#111" transform="rotate(29.1 132.70 328.40)" />
<rect x="143.90" y="326.00" width="6.20" height="6.20" rx="1.5" fill="#111" transform="rotate(13.6 147.00 329.10)" />
<rect x="161.10" y="323.60" width="6.20" height="6.20" rx="1.5" fill="#111" transform="rotate(58.6 164.20 326.70)" />
<rect x="176.60" y="321.90" width="6.20" height="6.20" rx="1.5" fill="#111" transform="rotate(6.5 179.70 325.00)" />
<rect x="191.90" y="322.50" width="6.20" height="6.20" rx="1.5" fill="#111" transform="rotate(48.2 195.00 325.60)" />
<rect x="209.10" y="321.90" width="6.20" height="6.20" rx="1.5" fill="#111" transform="rotate(32.9 212.20 325.00)" />
<rect x="224.60" y="322.60" width="6.20" height="6.20" rx="1.5" fill="#111" transform="rotate(5.2 227.70 325.70)" />
<rect x="241.40" y="325.30" width="6.20" height="6.20" rx="1.5" fill="#111" transform="rotate(45.7 244.50 328.40)" />
<rect x="256.90" y="325.30" width="6.20" height="6.20" rx="1.5" fill="#111" transform="rotate(3.4 260.00 328.40)" />
<rect x="138.20" y="338.60" width="6.20" height="6.20" rx="1.5" fill="#111" transform="rotate(39.0 141.30 341.70)" />
<rect x="248.30" y="338.60" width="6.20" height="6.20" rx="1.5" fill="#111" transform="rotate(6.3 251.40 341.70)" />
<rect x="129.10" y="350.60" width="6.20" height="6.20" rx="1.5" fill="#111" transform="rotate(8.2 132.20 353.70)" />
<rect x="255.20" y="350.60" width="6.20" height="6.20" rx="1.5" fill="#111" transform="rotate(38.2 258.30 353.70)" />
<rect x="138.20" y="363.20" width="6.20" height="6.20" rx="1.5" fill="#111" transform="rotate(74.4 141.30 366.30)" />
<rect x="248.70" y="363.20" width="6.20" height="6.20" rx="1.5" fill="#111" transform="rotate(11.1 251.80 366.30)" />
<rect x="129.60" y="376.40" width="6.20" height="6.20" rx="1.5" fill="#111" transform="rotate(20.1 132.70 379.50)" />
<rect x="256.40" y="375.60" width="6.20" height="6.20" rx="1.5" fill="#111" transform="rotate(56.5 259.50 378.70)" />
<rect x="139.10" y="390.60" width="6.20" height="6.20" rx="1.5" fill="#111" transform="rotate(85.3 142.20 393.70)" />
<rect x="249.50" y="387.90" width="6.20" height="6.20" rx="1.5" fill="#111" transform="rotate(51.9 252.60 391.00)" />
<rect x="131.90" y="403.90" width="6.20" height="6.20" rx="1.5" fill="#111" transform="rotate(35.7 135.00 407.00)" />
<rect x="146.30" y="403.40" width="6.20" height="6.20" rx="1.5" fill="#111" transform="rotate(87.9 149.40 406.50)" />
<rect x="161.50" y="403.00" width="6.20" height="6.20" rx="1.5" fill="#111" transform="rotate(4.2 164.60 406.10)" />
<rect x="176.60" y="401.30" width="6.20" height="6.20" rx="1.5" fill="#111" transform="rotate(77.3 179.70 404.40)" />
<rect x="191.60" y="399.90" width="6.20" height="6.20" rx="1.5" fill="#111" transform="rotate(26.1 194.70 403.00)" />
<rect x="207.70" y="398.70" width="6.20" height="6.20" rx="1.5" fill="#111" transform="rotate(13.0 210.80 401.80)" />
<rect x="224.20" y="399.60" width="6.20" height="6.20" rx="1.5" fill="#111" transform="rotate(10.6 227.30 402.70)" />
<rect x="240.90" y="400.90" width="6.20" height="6.20" rx="1.5" fill="#111" transform="rotate(27.8 244.00 404.00)" />
<rect x="257.30" y="400.90" width="6.20" height="6.20" rx="1.5" fill="#111" transform="rotate(73.5 260.40 404.00)" />
<rect x="153.90" y="336.20" width="5.80" height="5.80" rx="1.4" fill="#111" transform="rotate(16.3 156.80 339.10)" />
<rect x="169.40" y="335.30" width="5.80" height="5.80" rx="1.4" fill="#111" transform="rotate(52.3 172.30 338.20)" />
<rect x="185.40" y="335.30" width="5.80" height="5.80" rx="1.4" fill="#111" transform="rotate(57.5 188.30 338.20)" />
<rect x="200.70" y="334.80" width="5.80" height="5.80" rx="1.4" fill="#111" transform="rotate(33.5 203.60 337.70)" />
<rect x="217.10" y="335.30" width="5.80" height="5.80" rx="1.4" fill="#111" transform="rotate(49.3 220.00 338.20)" />
<rect x="233.10" y="336.50" width="5.80" height="5.80" rx="1.4" fill="#111" transform="rotate(5.7 236.00 339.40)" />
<rect x="145.30" y="350.80" width="5.80" height="5.80" rx="1.4" fill="#111" transform="rotate(5.4 148.20 353.70)" />
<rect x="161.30" y="349.10" width="5.80" height="5.80" rx="1.4" fill="#111" transform="rotate(18.5 164.20 352.00)" />
<rect x="177.50" y="348.60" width="5.80" height="5.80" rx="1.4" fill="#111" transform="rotate(61.2 180.40 351.50)" />
<rect x="193.80" y="348.20" width="5.80" height="5.80" rx="1.4" fill="#111" transform="rotate(38.5 196.70 351.10)" />
<rect x="209.00" y="348.20" width="5.80" height="5.80" rx="1.4" fill="#111" transform="rotate(28.3 211.90 351.10)" />
<rect x="223.90" y="348.60" width="5.80" height="5.80" rx="1.4" fill="#111" transform="rotate(52.7 226.80 351.50)" />
<rect x="239.90" y="350.80" width="5.80" height="5.80" rx="1.4" fill="#111" transform="rotate(40.8 242.80 353.70)" />
<rect x="153.90" y="362.80" width="5.80" height="5.80" rx="1.4" fill="#111" transform="rotate(27.0 156.80 365.70)" />
<rect x="168.90" y="361.60" width="5.80" height="5.80" rx="1.4" fill="#111" transform="rotate(71.5 171.80 364.50)" />
<rect x="184.90" y="361.10" width="5.80" height="5.80" rx="1.4" fill="#111" transform="rotate(62.9 187.80 364.00)" />
<rect x="199.80" y="361.10" width="5.80" height="5.80" rx="1.4" fill="#111" transform="rotate(22.0 202.70 364.00)" />
<rect x="216.20" y="361.60" width="5.80" height="5.80" rx="1.4" fill="#111" transform="rotate(51.7 219.10 364.50)" />
<rect x="232.00" y="363.40" width="5.80" height="5.80" rx="1.4" fill="#111" transform="rotate(47.3 234.90 366.30)" />
<rect x="145.30" y="377.10" width="5.80" height="5.80" rx="1.4" fill="#111" transform="rotate(78.8 148.20 380.00)" />
<rect x="161.30" y="375.40" width="5.80" height="5.80" rx="1.4" fill="#111" transform="rotate(65.7 164.20 378.30)" />
<rect x="176.80" y="374.90" width="5.80" height="5.80" rx="1.4" fill="#111" transform="rotate(25.9 179.70 377.80)" />
<rect x="191.80" y="374.10" width="5.80" height="5.80" rx="1.4" fill="#111" transform="rotate(88.2 194.70 377.00)" />
<rect x="209.00" y="374.90" width="5.80" height="5.80" rx="1.4" fill="#111" transform="rotate(10.6 211.90 377.80)" />
<rect x="224.40" y="375.40" width="5.80" height="5.80" rx="1.4" fill="#111" transform="rotate(37.6 227.30 378.30)" />
<rect x="240.60" y="376.60" width="5.80" height="5.80" rx="1.4" fill="#111" transform="rotate(68.1 243.50 379.50)" />
<rect x="153.90" y="390.30" width="5.80" height="5.80" rx="1.4" fill="#111" transform="rotate(13.7 156.80 393.20)" />
<rect x="168.50" y="388.60" width="5.80" height="5.80" rx="1.4" fill="#111" transform="rotate(44.0 171.40 391.50)" />
<rect x="183.70" y="387.70" width="5.80" height="5.80" rx="1.4" fill="#111" transform="rotate(3.5 186.60 390.60)" />
<rect x="199.80" y="386.90" width="5.80" height="5.80" rx="1.4" fill="#111" transform="rotate(60.1 202.70 389.80)" />
<rect x="217.60" y="388.10" width="5.80" height="5.80" rx="1.4" fill="#111" transform="rotate(68.8 220.50 391.00)" />
<rect x="233.10" y="388.60" width="5.80" height="5.80" rx="1.4" fill="#111" transform="rotate(51.6 236.00 391.50)" />
<path d="M156.8 339.1L172.3 338.2 M172.3 338.2L188.3 338.2 M188.3 338.2L203.6 337.7 M203.6 337.7L220.0 338.2 M220.0 338.2L236.0 339.4 M156.8 339.1L148.2 353.7 M156.8 339.1L164.2 352.0 M172.3 338.2L164.2 352.0 M172.3 338.2L180.4 351.5 M188.3 338.2L180.4 351.5 M188.3 338.2L196.7 351.1 M203.6 337.7L196.7 351.1 M203.6 337.7L211.9 351.1 M220.0 338.2L211.9 351.1 M220.0 338.2L226.8 351.5 M236.0 339.4L226.8 351.5 M236.0 339.4L242.8 353.7 M148.2 353.7L164.2 352.0 M164.2 352.0L180.4 351.5 M180.4 351.5L196.7 351.1 M196.7 351.1L211.9 351.1 M211.9 351.1L226.8 351.5 M226.8 351.5L242.8 353.7 M148.2 353.7L156.8 365.7 M164.2 352.0L156.8 365.7 M164.2 352.0L171.8 364.5 M180.4 351.5L171.8 364.5 M180.4 351.5L187.8 364.0 M196.7 351.1L187.8 364.0 M196.7 351.1L202.7 364.0 M211.9 351.1L202.7 364.0 M211.9 351.1L219.1 364.5 M226.8 351.5L219.1 364.5 M226.8 351.5L234.9 366.3 M242.8 353.7L234.9 366.3 M156.8 365.7L171.8 364.5 M171.8 364.5L187.8 364.0 M187.8 364.0L202.7 364.0 M202.7 364.0L219.1 364.5 M219.1 364.5L234.9 366.3 M156.8 365.7L148.2 380.0 M156.8 365.7L164.2 378.3 M171.8 364.5L164.2 378.3 M171.8 364.5L179.7 377.8 M187.8 364.0L179.7 377.8 M187.8 364.0L194.7 377.0 M202.7 364.0L194.7 377.0 M202.7 364.0L211.9 377.8 M219.1 364.5L211.9 377.8 M219.1 364.5L227.3 378.3 M234.9 366.3L227.3 378.3 M234.9 366.3L243.5 379.5 M148.2 380.0L164.2 378.3 M164.2 378.3L179.7 377.8 M179.7 377.8L194.7 377.0 M194.7 377.0L211.9 377.8 M211.9 377.8L227.3 378.3 M227.3 378.3L243.5 379.5 M148.2 380.0L156.8 393.2 M164.2 378.3L156.8 393.2 M164.2 378.3L171.4 391.5 M179.7 377.8L171.4 391.5 M179.7 377.8L186.6 390.6 M194.7 377.0L186.6 390.6 M194.7 377.0L202.7 389.8 M211.9 377.8L202.7 389.8 M211.9 377.8L220.5 391.0 M227.3 378.3L220.5 391.0 M227.3 378.3L236.0 391.5 M243.5 379.5L236.0 391.5 M156.8 393.2L171.4 391.5 M171.4 391.5L186.6 390.6 M186.6 390.6L202.7 389.8 M202.7 389.8L220.5 391.0 M220.5 391.0L236.0 391.5" stroke="#ee1111" stroke-width="1.4" fill="none"/>
<rect x="127.75" y="429.85" width="7.30" height="7.30" rx="1.7" fill="#111" transform="rotate(78.8 131.40 433.50)" />
<rect x="138.15" y="427.55" width="7.30" height="7.30" rx="1.7" fill="#111" transform="rotate(28.2 141.80 431.20)" />
<rect x="130.65" y="440.75" width="7.30" height="7.30" rx="1.7" fill="#111" transform="rotate(62.6 134.30 444.40)" />
<rect x="135.25" y="452.75" width="7.30" height="7.30" rx="1.7" fill="#111" transform="rotate(53.5 138.90 456.40)" />
<rect x="128.95" y="464.25" width="7.30" height="7.30" rx="1.7" fill="#111" transform="rotate(52.2 132.60 467.90)" />
<rect x="134.05" y="476.95" width="7.30" height="7.30" rx="1.7" fill="#111" transform="rotate(41.1 137.70 480.60)" />
<rect x="128.95" y="488.35" width="7.30" height="7.30" rx="1.7" fill="#111" transform="rotate(75.6 132.60 492.00)" />
<rect x="131.25" y="501.05" width="7.30" height="7.30" rx="1.7" fill="#111" transform="rotate(85.0 134.90 504.70)" />
<rect x="251.65" y="427.55" width="7.30" height="7.30" rx="1.7" fill="#111" transform="rotate(42.7 255.30 431.20)" />
<rect x="256.15" y="437.85" width="7.30" height="7.30" rx="1.7" fill="#111" transform="rotate(59.8 259.80 441.50)" />
<rect x="250.45" y="450.45" width="7.30" height="7.30" rx="1.7" fill="#111" transform="rotate(5.5 254.10 454.10)" />
<rect x="256.15" y="460.75" width="7.30" height="7.30" rx="1.7" fill="#111" transform="rotate(63.1 259.80 464.40)" />
<rect x="249.85" y="472.95" width="7.30" height="7.30" rx="1.7" fill="#111" transform="rotate(58.2 253.50 476.60)" />
<rect x="255.65" y="484.45" width="7.30" height="7.30" rx="1.7" fill="#111" transform="rotate(89.4 259.30 488.10)" />
<rect x="248.75" y="497.65" width="7.30" height="7.30" rx="1.7" fill="#111" transform="rotate(74.0 252.40 501.30)" />
<rect x="256.15" y="507.35" width="7.30" height="7.30" rx="1.7" fill="#111" transform="rotate(25.6 259.80 511.00)" />
<rect x="135.25" y="510.85" width="7.30" height="7.30" rx="1.7" fill="#111" transform="rotate(34.7 138.90 514.50)" />
<rect x="150.15" y="510.85" width="7.30" height="7.30" rx="1.7" fill="#111" transform="rotate(60.2 153.80 514.50)" />
<rect x="162.75" y="510.85" width="7.30" height="7.30" rx="1.7" fill="#111" transform="rotate(2.0 166.40 514.50)" />
<rect x="174.75" y="510.35" width="7.30" height="7.30" rx="1.7" fill="#111" transform="rotate(41.6 178.40 514.00)" />
<rect x="188.55" y="510.35" width="7.30" height="7.30" rx="1.7" fill="#111" transform="rotate(15.1 192.20 514.00)" />
<rect x="201.15" y="510.35" width="7.30" height="7.30" rx="1.7" fill="#111" transform="rotate(10.5 204.80 514.00)" />
<rect x="214.95" y="510.35" width="7.30" height="7.30" rx="1.7" fill="#111" transform="rotate(5.3 218.60 514.00)" />
<rect x="229.25" y="510.35" width="7.30" height="7.30" rx="1.7" fill="#111" transform="rotate(69.1 232.90 514.00)" />
<rect x="243.05" y="510.35" width="7.30" height="7.30" rx="1.7" fill="#111" transform="rotate(11.6 246.70 514.00)" />
<rect x="149.20" y="428.50" width="7.00" height="7.00" rx="1.8" fill="#111" transform="rotate(22.3 152.70 432.00)" />
<rect x="162.30" y="428.50" width="7.00" height="7.00" rx="1.8" fill="#111" transform="rotate(35.2 165.80 432.00)" />
<rect x="174.90" y="428.50" width="7.00" height="7.00" rx="1.8" fill="#111" transform="rotate(78.4 178.40 432.00)" />
<rect x="187.60" y="428.50" width="7.00" height="7.00" rx="1.8" fill="#111" transform="rotate(7.3 191.10 432.00)" />
<rect x="199.60" y="428.50" width="7.00" height="7.00" rx="1.8" fill="#111" transform="rotate(40.4 203.10 432.00)" />
<rect x="211.60" y="428.50" width="7.00" height="7.00" rx="1.8" fill="#111" transform="rotate(49.4 215.10 432.00)" />
<rect x="224.20" y="428.50" width="7.00" height="7.00" rx="1.8" fill="#111" transform="rotate(79.5 227.70 432.00)" />
<rect x="239.10" y="428.50" width="7.00" height="7.00" rx="1.8" fill="#111" transform="rotate(73.7 242.60 432.00)" />
<rect x="143.40" y="440.50" width="7.00" height="7.00" rx="1.8" fill="#111" transform="rotate(77.8 146.90 444.00)" />
<rect x="154.90" y="440.50" width="7.00" height="7.00" rx="1.8" fill="#111" transform="rotate(25.1 158.40 444.00)" />
<rect x="167.50" y="440.50" width="7.00" height="7.00" rx="1.8" fill="#111" transform="rotate(37.4 171.00 444.00)" />
<rect x="179.50" y="440.50" width="7.00" height="7.00" rx="1.8" fill="#111" transform="rotate(32.3 183.00 444.00)" />
<rect x="192.10" y="440.50" width="7.00" height="7.00" rx="1.8" fill="#111" transform="rotate(79.6 195.60 444.00)" />
<rect x="204.80" y="440.50" width="7.00" height="7.00" rx="1.8" fill="#111" transform="rotate(86.2 208.30 444.00)" />
<rect x="217.40" y="440.50" width="7.00" height="7.00" rx="1.8" fill="#111" transform="rotate(13.6 220.90 444.00)" />
<rect x="232.30" y="440.50" width="7.00" height="7.00" rx="1.8" fill="#111" transform="rotate(15.9 235.80 444.00)" />
<rect x="244.90" y="440.50" width="7.00" height="7.00" rx="1.8" fill="#111" transform="rotate(20.9 248.40 444.00)" />
<rect x="147.40" y="452.50" width="7.00" height="7.00" rx="1.8" fill="#111" transform="rotate(21.0 150.90 456.00)" />
<rect x="160.60" y="452.50" width="7.00" height="7.00" rx="1.8" fill="#111" transform="rotate(43.6 164.10 456.00)" />
<rect x="171.50" y="452.50" width="7.00" height="7.00" rx="1.8" fill="#111" transform="rotate(53.0 175.00 456.00)" />
<rect x="184.70" y="452.50" width="7.00" height="7.00" rx="1.8" fill="#111" transform="rotate(23.6 188.20 456.00)" />
<rect x="197.30" y="452.50" width="7.00" height="7.00" rx="1.8" fill="#111" transform="rotate(0.4 200.80 456.00)" />
<rect x="209.30" y="452.50" width="7.00" height="7.00" rx="1.8" fill="#111" transform="rotate(37.7 212.80 456.00)" />
<rect x="223.10" y="452.50" width="7.00" height="7.00" rx="1.8" fill="#111" transform="rotate(33.2 226.60 456.00)" />
<rect x="236.80" y="452.50" width="7.00" height="7.00" rx="1.8" fill="#111" transform="rotate(51.0 240.30 456.00)" />
<rect x="141.10" y="464.00" width="7.00" height="7.00" rx="1.8" fill="#111" transform="rotate(85.8 144.60 467.50)" />
<rect x="153.70" y="464.00" width="7.00" height="7.00" rx="1.8" fill="#111" transform="rotate(62.1 157.20 467.50)" />
<rect x="166.40" y="464.00" width="7.00" height="7.00" rx="1.8" fill="#111" transform="rotate(46.4 169.90 467.50)" />
<rect x="177.80" y="464.00" width="7.00" height="7.00" rx="1.8" fill="#111" transform="rotate(55.6 181.30 467.50)" />
<rect x="190.40" y="464.00" width="7.00" height="7.00" rx="1.8" fill="#111" transform="rotate(60.9 193.90 467.50)" />
<rect x="203.60" y="464.00" width="7.00" height="7.00" rx="1.8" fill="#111" transform="rotate(4.9 207.10 467.50)" />
<rect x="215.70" y="464.00" width="7.00" height="7.00" rx="1.8" fill="#111" transform="rotate(81.0 219.20 467.50)" />
<rect x="230.00" y="464.00" width="7.00" height="7.00" rx="1.8" fill="#111" transform="rotate(70.2 233.50 467.50)" />
<rect x="243.20" y="464.00" width="7.00" height="7.00" rx="1.8" fill="#111" transform="rotate(78.7 246.70 467.50)" />
<rect x="145.10" y="476.00" width="7.00" height="7.00" rx="1.8" fill="#111" transform="rotate(71.8 148.60 479.50)" />
<rect x="158.30" y="476.00" width="7.00" height="7.00" rx="1.8" fill="#111" transform="rotate(35.3 161.80 479.50)" />
<rect x="170.90" y="476.00" width="7.00" height="7.00" rx="1.8" fill="#111" transform="rotate(35.9 174.40 479.50)" />
<rect x="184.10" y="476.00" width="7.00" height="7.00" rx="1.8" fill="#111" transform="rotate(9.3 187.60 479.50)" />
<rect x="197.90" y="476.00" width="7.00" height="7.00" rx="1.8" fill="#111" transform="rotate(57.1 201.40 479.50)" />
<rect x="210.50" y="476.00" width="7.00" height="7.00" rx="1.8" fill="#111" transform="rotate(5.6 214.00 479.50)" />
<rect x="224.20" y="476.00" width="7.00" height="7.00" rx="1.8" fill="#111" transform="rotate(6.1 227.70 479.50)" />
<rect x="236.80" y="476.00" width="7.00" height="7.00" rx="1.8" fill="#111" transform="rotate(18.8 240.30 479.50)" />
<rect x="138.30" y="487.50" width="7.00" height="7.00" rx="1.8" fill="#111" transform="rotate(14.6 141.80 491.00)" />
<rect x="151.50" y="487.50" width="7.00" height="7.00" rx="1.8" fill="#111" transform="rotate(30.6 155.00 491.00)" />
<rect x="164.10" y="487.50" width="7.00" height="7.00" rx="1.8" fill="#111" transform="rotate(4.7 167.60 491.00)" />
<rect x="177.20" y="487.50" width="7.00" height="7.00" rx="1.8" fill="#111" transform="rotate(0.0 180.70 491.00)" />
<rect x="189.80" y="487.50" width="7.00" height="7.00" rx="1.8" fill="#111" transform="rotate(13.6 193.30 491.00)" />
<rect x="202.50" y="487.50" width="7.00" height="7.00" rx="1.8" fill="#111" transform="rotate(9.1 206.00 491.00)" />
<rect x="216.20" y="487.50" width="7.00" height="7.00" rx="1.8" fill="#111" transform="rotate(32.7 219.70 491.00)" />
<rect x="230.00" y="487.50" width="7.00" height="7.00" rx="1.8" fill="#111" transform="rotate(2.3 233.50 491.00)" />
<rect x="243.20" y="487.50" width="7.00" height="7.00" rx="1.8" fill="#111" transform="rotate(78.7 246.70 491.00)" />
<rect x="142.80" y="499.50" width="7.00" height="7.00" rx="1.8" fill="#111" transform="rotate(55.3 146.30 503.00)" />
<rect x="155.50" y="499.50" width="7.00" height="7.00" rx="1.8" fill="#111" transform="rotate(13.4 159.00 503.00)" />
<rect x="169.80" y="499.50" width="7.00" height="7.00" rx="1.8" fill="#111" transform="rotate(22.7 173.30 503.00)" />
<rect x="183.00" y="499.50" width="7.00" height="7.00" rx="1.8" fill="#111" transform="rotate(31.3 186.50 503.00)" />
<rect x="195.60" y="499.50" width="7.00" height="7.00" rx="1.8" fill="#111" transform="rotate(32.8 199.10 503.00)" />
<rect x="208.20" y="499.50" width="7.00" height="7.00" rx="1.8" fill="#111" transform="rotate(11.1 211.70 503.00)" />
<rect x="223.10" y="499.50" width="7.00" height="7.00" rx="1.8" fill="#111" transform="rotate(76.4 226.60 503.00)" />
<rect x="235.70" y="499.50" width="7.00" height="7.00" rx="1.8" fill="#111" transform="rotate(89.4 239.20 503.00)" />
<path d="M152.7 431.0L242.6 431.0 M152.7 431.0L146.9 443.0 M152.7 431.0L158.4 443.0 M165.8 431.0L158.4 443.0 M165.8 431.0L171.0 443.0 M178.4 431.0L171.0 443.0 M178.4 431.0L183.0 443.0 M191.1 431.0L183.0 443.0 M191.1 431.0L195.6 443.0 M203.1 431.0L195.6 443.0 M203.1 431.0L208.3 443.0 M215.1 431.0L208.3 443.0 M215.1 431.0L220.9 443.0 M227.7 431.0L220.9 443.0 M227.7 431.0L235.8 443.0 M242.6 431.0L235.8 443.0 M242.6 431.0L248.4 443.0 M146.9 443.0L248.4 443.0 M146.9 443.0L150.9 455.0 M158.4 443.0L150.9 455.0 M158.4 443.0L164.1 455.0 M171.0 443.0L164.1 455.0 M171.0 443.0L175.0 455.0 M183.0 443.0L175.0 455.0 M183.0 443.0L188.2 455.0 M195.6 443.0L188.2 455.0 M195.6 443.0L200.8 455.0 M208.3 443.0L200.8 455.0 M208.3 443.0L212.8 455.0 M220.9 443.0L212.8 455.0 M220.9 443.0L226.6 455.0 M235.8 443.0L226.6 455.0 M235.8 443.0L240.3 455.0 M248.4 443.0L240.3 455.0 M150.9 455.0L240.3 455.0 M150.9 455.0L144.6 466.5 M150.9 455.0L157.2 466.5 M164.1 455.0L157.2 466.5 M164.1 455.0L169.9 466.5 M175.0 455.0L169.9 466.5 M175.0 455.0L181.3 466.5 M188.2 455.0L181.3 466.5 M188.2 455.0L193.9 466.5 M200.8 455.0L193.9 466.5 M200.8 455.0L207.1 466.5 M212.8 455.0L207.1 466.5 M212.8 455.0L219.2 466.5 M226.6 455.0L219.2 466.5 M226.6 455.0L233.5 466.5 M240.3 455.0L233.5 466.5 M240.3 455.0L246.7 466.5 M144.6 466.5L246.7 466.5 M144.6 466.5L148.6 478.5 M157.2 466.5L148.6 478.5 M157.2 466.5L161.8 478.5 M169.9 466.5L161.8 478.5 M169.9 466.5L174.4 478.5 M181.3 466.5L174.4 478.5 M181.3 466.5L187.6 478.5 M193.9 466.5L187.6 478.5 M193.9 466.5L201.4 478.5 M207.1 466.5L201.4 478.5 M207.1 466.5L214.0 478.5 M219.2 466.5L214.0 478.5 M219.2 466.5L227.7 478.5 M233.5 466.5L227.7 478.5 M233.5 466.5L240.3 478.5 M246.7 466.5L240.3 478.5 M148.6 478.5L240.3 478.5 M148.6 478.5L141.8 490.0 M148.6 478.5L155.0 490.0 M161.8 478.5L155.0 490.0 M161.8 478.5L167.6 490.0 M174.4 478.5L167.6 490.0 M174.4 478.5L180.7 490.0 M187.6 478.5L180.7 490.0 M187.6 478.5L193.3 490.0 M201.4 478.5L193.3 490.0 M201.4 478.5L206.0 490.0 M214.0 478.5L206.0 490.0 M214.0 478.5L219.7 490.0 M227.7 478.5L219.7 490.0 M227.7 478.5L233.5 490.0 M240.3 478.5L233.5 490.0 M240.3 478.5L246.7 490.0 M141.8 490.0L246.7 490.0 M141.8 490.0L146.3 502.0 M155.0 490.0L146.3 502.0 M155.0 490.0L159.0 502.0 M167.6 490.0L159.0 502.0 M167.6 490.0L173.3 502.0 M180.7 490.0L173.3 502.0 M180.7 490.0L186.5 502.0 M193.3 490.0L186.5 502.0 M193.3 490.0L199.1 502.0 M206.0 490.0L199.1 502.0 M206.0 490.0L211.7 502.0 M219.7 490.0L211.7 502.0 M219.7 490.0L226.6 502.0 M233.5 490.0L226.6 502.0 M233.5 490.0L239.2 502.0 M246.7 490.0L239.2 502.0 M146.3 502.0L239.2 502.0" stroke="#f9a01e" stroke-width="1.15" fill="none"/>
<clipPath id="hclip"><rect x="128.5" y="534.5" width="137.0" height="94.5"/></clipPath>
<g clip-path="url(#hclip)">
<rect x="124.69" y="530.62" width="8.20" height="8.20" rx="1.8" fill="#111" transform="rotate(37.5 128.79 534.72)" />
<rect x="140.13" y="528.73" width="8.20" height="8.20" rx="1.8" fill="#111" transform="rotate(37.7 144.23 532.83)" />
<rect x="133.36" y="537.40" width="8.20" height="8.20" rx="1.8" fill="#111" transform="rotate(31.4 137.46 541.50)" />
<rect x="126.59" y="546.06" width="8.20" height="8.20" rx="1.8" fill="#111" transform="rotate(31.6 130.69 550.16)" />
<rect x="119.82" y="554.73" width="8.20" height="8.20" rx="1.8" fill="#111" transform="rotate(35.5 123.92 558.83)" />
<rect x="155.57" y="526.83" width="8.20" height="8.20" rx="1.8" fill="#111" transform="rotate(34.2 159.67 530.93)" />
<rect x="137.15" y="568.28" width="8.20" height="8.20" rx="1.8" fill="#111" transform="rotate(43.3 141.25 572.38)" />
<rect x="145.82" y="575.05" width="8.20" height="8.20" rx="1.8" fill="#111" transform="rotate(32.6 149.92 579.15)" />
<rect x="168.74" y="528.89" width="8.20" height="8.20" rx="1.8" fill="#111" transform="rotate(2.4 172.84 532.99)" />
<rect x="166.86" y="539.52" width="8.20" height="8.20" rx="1.8" fill="#111" transform="rotate(17.2 170.96 543.62)" />
<rect x="179.38" y="530.76" width="8.20" height="8.20" rx="1.8" fill="#111" transform="rotate(10.5 183.48 534.86)" />
<rect x="177.50" y="541.40" width="8.20" height="8.20" rx="1.8" fill="#111" transform="rotate(4.3 181.60 545.50)" />
<rect x="175.62" y="552.04" width="8.20" height="8.20" rx="1.8" fill="#111" transform="rotate(10.7 179.72 556.14)" />
<rect x="173.75" y="562.67" width="8.20" height="8.20" rx="1.8" fill="#111" transform="rotate(2.4 177.85 566.77)" />
<rect x="190.01" y="532.64" width="8.20" height="8.20" rx="1.8" fill="#111" transform="rotate(10.4 194.11 536.74)" />
<rect x="188.14" y="543.28" width="8.20" height="8.20" rx="1.8" fill="#111" transform="rotate(17.7 192.24 547.38)" />
<rect x="186.26" y="553.91" width="8.20" height="8.20" rx="1.8" fill="#111" transform="rotate(15.8 190.36 558.01)" />
<rect x="184.39" y="564.55" width="8.20" height="8.20" rx="1.8" fill="#111" transform="rotate(13.1 188.49 568.65)" />
<rect x="182.51" y="575.18" width="8.20" height="8.20" rx="1.8" fill="#111" transform="rotate(6.2 186.61 579.28)" />
<rect x="200.65" y="534.51" width="8.20" height="8.20" rx="1.8" fill="#111" transform="rotate(7.9 204.75 538.61)" />
<rect x="198.77" y="545.15" width="8.20" height="8.20" rx="1.8" fill="#111" transform="rotate(4.7 202.87 549.25)" />
<rect x="196.90" y="555.79" width="8.20" height="8.20" rx="1.8" fill="#111" transform="rotate(14.4 201.00 559.89)" />
<rect x="195.02" y="566.42" width="8.20" height="8.20" rx="1.8" fill="#111" transform="rotate(10.5 199.12 570.52)" />
<rect x="209.41" y="547.03" width="8.20" height="8.20" rx="1.8" fill="#111" transform="rotate(14.5 213.51 551.13)" />
<rect x="207.53" y="557.66" width="8.20" height="8.20" rx="1.8" fill="#111" transform="rotate(7.3 211.63 561.76)" />
<rect x="248.30" y="533.90" width="8.20" height="8.20" rx="1.8" fill="#111" transform="rotate(-4.4 252.40 538.00)" />
<rect x="248.30" y="544.40" width="8.20" height="8.20" rx="1.8" fill="#111" transform="rotate(5.0 252.40 548.50)" />
<rect x="258.80" y="533.90" width="8.20" height="8.20" rx="1.8" fill="#111" transform="rotate(7.8 262.90 538.00)" />
<rect x="258.80" y="544.40" width="8.20" height="8.20" rx="1.8" fill="#111" transform="rotate(5.6 262.90 548.50)" />
<rect x="256.30" y="555.70" width="8.20" height="8.20" rx="1.8" fill="#111" transform="rotate(44.9 260.40 559.80)" />
<rect x="264.57" y="562.64" width="8.20" height="8.20" rx="1.8" fill="#111" transform="rotate(45.1 268.67 566.74)" />
<rect x="250.69" y="579.19" width="8.20" height="8.20" rx="1.8" fill="#111" transform="rotate(43.8 254.79 583.29)" />
<rect x="265.90" y="577.86" width="8.20" height="8.20" rx="1.8" fill="#111" transform="rotate(35.6 270.00 581.96)" />
<rect x="121.79" y="626.81" width="8.20" height="8.20" rx="1.8" fill="#111" transform="rotate(-11.7 125.89 630.91)" />
<rect x="129.96" y="614.24" width="8.20" height="8.20" rx="1.8" fill="#111" transform="rotate(-14.3 134.06 618.34)" />
<rect x="132.16" y="624.61" width="8.20" height="8.20" rx="1.8" fill="#111" transform="rotate(-19.5 136.26 628.71)" />
<rect x="142.53" y="622.40" width="8.20" height="8.20" rx="1.8" fill="#111" transform="rotate(-19.6 146.63 626.50)" />
<rect x="152.90" y="620.20" width="8.20" height="8.20" rx="1.8" fill="#111" transform="rotate(-15.5 157.00 624.30)" />
<rect x="163.27" y="618.00" width="8.20" height="8.20" rx="1.8" fill="#111" transform="rotate(-15.9 167.37 622.10)" />
<rect x="165.47" y="628.36" width="8.20" height="8.20" rx="1.8" fill="#111" transform="rotate(-8.9 169.57 632.46)" />
<rect x="200.97" y="590.68" width="8.20" height="8.20" rx="1.8" fill="#111" transform="rotate(47.3 205.07 594.78)" />
<rect x="194.03" y="598.96" width="8.20" height="8.20" rx="1.8" fill="#111" transform="rotate(39.2 198.13 603.06)" />
<rect x="180.14" y="615.50" width="8.20" height="8.20" rx="1.8" fill="#111" transform="rotate(47.0 184.24 619.60)" />
<rect x="173.20" y="623.78" width="8.20" height="8.20" rx="1.8" fill="#111" transform="rotate(47.8 177.30 627.88)" />
<rect x="202.30" y="605.90" width="8.20" height="8.20" rx="1.8" fill="#111" transform="rotate(47.3 206.40 610.00)" />
<rect x="195.36" y="614.17" width="8.20" height="8.20" rx="1.8" fill="#111" transform="rotate(37.8 199.46 618.27)" />
<rect x="188.42" y="622.45" width="8.20" height="8.20" rx="1.8" fill="#111" transform="rotate(35.5 192.52 626.55)" />
<rect x="210.57" y="612.84" width="8.20" height="8.20" rx="1.8" fill="#111" transform="rotate(35.6 214.67 616.94)" />
<rect x="203.63" y="621.12" width="8.20" height="8.20" rx="1.8" fill="#111" transform="rotate(35.1 207.73 625.22)" />
<rect x="196.69" y="629.39" width="8.20" height="8.20" rx="1.8" fill="#111" transform="rotate(35.3 200.79 633.49)" />
<rect x="218.85" y="619.78" width="8.20" height="8.20" rx="1.8" fill="#111" transform="rotate(42.0 222.95 623.88)" />
<rect x="211.90" y="628.06" width="8.20" height="8.20" rx="1.8" fill="#111" transform="rotate(46.4 216.00 632.16)" />
<rect x="245.65" y="587.36" width="8.20" height="8.20" rx="1.8" fill="#111" transform="rotate(40.4 249.75 591.46)" />
<rect x="254.49" y="593.55" width="8.20" height="8.20" rx="1.8" fill="#111" transform="rotate(34.7 258.59 597.65)" />
<rect x="242.11" y="611.25" width="8.20" height="8.20" rx="1.8" fill="#111" transform="rotate(37.4 246.21 615.35)" />
<rect x="235.91" y="620.09" width="8.20" height="8.20" rx="1.8" fill="#111" transform="rotate(39.8 240.01 624.19)" />
<rect x="229.72" y="628.94" width="8.20" height="8.20" rx="1.8" fill="#111" transform="rotate(28.4 233.82 633.04)" />
<rect x="263.34" y="599.75" width="8.20" height="8.20" rx="1.8" fill="#111" transform="rotate(37.6 267.44 603.85)" />
<rect x="257.15" y="608.59" width="8.20" height="8.20" rx="1.8" fill="#111" transform="rotate(41.6 261.25 612.69)" />
<rect x="250.95" y="617.44" width="8.20" height="8.20" rx="1.8" fill="#111" transform="rotate(39.5 255.05 621.54)" />
<rect x="244.76" y="626.29" width="8.20" height="8.20" rx="1.8" fill="#111" transform="rotate(39.0 248.86 630.39)" />
<rect x="265.99" y="614.79" width="8.20" height="8.20" rx="1.8" fill="#111" transform="rotate(34.6 270.09 618.89)" />
<rect x="259.80" y="623.64" width="8.20" height="8.20" rx="1.8" fill="#111" transform="rotate(29.9 263.90 627.74)" />
<rect x="208.76" y="535.57" width="8.20" height="8.20" rx="1.8" fill="#111" transform="rotate(-7.4 212.86 539.67)" />
<rect x="219.12" y="533.37" width="8.20" height="8.20" rx="1.8" fill="#111" transform="rotate(-14.7 223.22 537.47)" />
<rect x="229.49" y="531.16" width="8.20" height="8.20" rx="1.8" fill="#111" transform="rotate(-7.2 233.59 535.26)" />
<rect x="124.06" y="564.02" width="8.20" height="8.20" rx="1.8" fill="#111" transform="rotate(12.5 128.16 568.12)" />
<rect x="123.14" y="574.48" width="8.20" height="8.20" rx="1.8" fill="#111" transform="rotate(3.3 127.24 578.58)" />
<rect x="122.22" y="584.94" width="8.20" height="8.20" rx="1.8" fill="#111" transform="rotate(3.4 126.32 589.04)" />
<rect x="121.31" y="595.40" width="8.20" height="8.20" rx="1.8" fill="#111" transform="rotate(12.1 125.41 599.50)" />
<rect x="120.39" y="605.86" width="8.20" height="8.20" rx="1.8" fill="#111" transform="rotate(8.6 124.49 609.96)" />
<rect x="119.48" y="616.33" width="8.20" height="8.20" rx="1.8" fill="#111" transform="rotate(-0.3 123.58 620.43)" />
<rect x="133.60" y="575.40" width="8.20" height="8.20" rx="1.8" fill="#111" transform="rotate(-1.0 137.70 579.50)" />
<rect x="132.68" y="585.86" width="8.20" height="8.20" rx="1.8" fill="#111" transform="rotate(-0.6 136.78 589.96)" />
<rect x="130.85" y="606.78" width="8.20" height="8.20" rx="1.8" fill="#111" transform="rotate(11.5 134.95 610.88)" />
<rect x="143.14" y="586.78" width="8.20" height="8.20" rx="1.8" fill="#111" transform="rotate(9.9 147.24 590.88)" />
<rect x="163.43" y="560.42" width="8.20" height="8.20" rx="1.8" fill="#111" transform="rotate(19.3 167.53 564.52)" />
<rect x="158.86" y="570.21" width="8.20" height="8.20" rx="1.8" fill="#111" transform="rotate(30.2 162.96 574.31)" />
<rect x="154.30" y="580.00" width="8.20" height="8.20" rx="1.8" fill="#111" transform="rotate(32.7 158.40 584.10)" />
<rect x="168.65" y="574.78" width="8.20" height="8.20" rx="1.8" fill="#111" transform="rotate(27.5 172.75 578.88)" />
<rect x="178.44" y="579.34" width="8.20" height="8.20" rx="1.8" fill="#111" transform="rotate(22.6 182.54 583.44)" />
<rect x="189.60" y="581.61" width="7.79" height="7.79" rx="1.8" fill="#111" transform="rotate(49.4 193.50 585.50)" />
<rect x="258.61" y="584.61" width="7.79" height="7.79" rx="1.8" fill="#111" transform="rotate(11.8 262.50 588.50)" />
<rect x="150.50" y="537.20" width="4.80" height="4.80" rx="1.3" fill="#111" transform="rotate(29.7 152.90 539.60)" />
<rect x="143.40" y="545.90" width="4.80" height="4.80" rx="1.3" fill="#111" transform="rotate(41.2 145.80 548.30)" />
<rect x="136.30" y="554.60" width="4.80" height="4.80" rx="1.3" fill="#111" transform="rotate(37.4 138.70 557.00)" />
<rect x="159.45" y="543.60" width="4.80" height="4.80" rx="1.3" fill="#111" transform="rotate(35.9 161.85 546.00)" />
<rect x="152.45" y="551.75" width="4.80" height="4.80" rx="1.3" fill="#111" transform="rotate(40.8 154.85 554.15)" />
<rect x="145.45" y="559.90" width="4.80" height="4.80" rx="1.3" fill="#111" transform="rotate(34.8 147.85 562.30)" />
<rect x="168.40" y="550.00" width="4.80" height="4.80" rx="1.3" fill="#111" transform="rotate(40.0 170.80 552.40)" />
<rect x="161.50" y="557.60" width="4.80" height="4.80" rx="1.3" fill="#111" transform="rotate(39.5 163.90 560.00)" />
<rect x="154.60" y="565.20" width="4.80" height="4.80" rx="1.3" fill="#111" transform="rotate(32.1 157.00 567.60)" />
<rect x="219.30" y="541.30" width="4.80" height="4.80" rx="1.3" fill="#111" transform="rotate(-15.8 221.70 543.70)" />
<rect x="222.74" y="549.30" width="4.80" height="4.80" rx="1.3" fill="#111" transform="rotate(-15.3 225.14 551.70)" />
<rect x="226.18" y="557.30" width="4.80" height="4.80" rx="1.3" fill="#111" transform="rotate(-16.0 228.58 559.70)" />
<rect x="229.62" y="565.30" width="4.80" height="4.80" rx="1.3" fill="#111" transform="rotate(-11.8 232.02 567.70)" />
<rect x="233.06" y="573.30" width="4.80" height="4.80" rx="1.3" fill="#111" transform="rotate(-15.7 235.46 575.70)" />
<rect x="236.50" y="581.30" width="4.80" height="4.80" rx="1.3" fill="#111" transform="rotate(-13.8 238.90 583.70)" />
<rect x="229.60" y="538.95" width="4.80" height="4.80" rx="1.3" fill="#111" transform="rotate(-17.3 232.00 541.35)" />
<rect x="233.04" y="546.74" width="4.80" height="4.80" rx="1.3" fill="#111" transform="rotate(-7.9 235.44 549.14)" />
<rect x="236.48" y="554.53" width="4.80" height="4.80" rx="1.3" fill="#111" transform="rotate(-14.6 238.88 556.93)" />
<rect x="239.92" y="562.32" width="4.80" height="4.80" rx="1.3" fill="#111" transform="rotate(-13.4 242.32 564.72)" />
<rect x="243.36" y="570.11" width="4.80" height="4.80" rx="1.3" fill="#111" transform="rotate(-11.9 245.76 572.51)" />
<rect x="246.80" y="577.90" width="4.80" height="4.80" rx="1.3" fill="#111" transform="rotate(-8.0 249.20 580.30)" />
<rect x="239.90" y="536.60" width="4.80" height="4.80" rx="1.3" fill="#111" transform="rotate(-13.8 242.30 539.00)" />
<rect x="243.34" y="544.18" width="4.80" height="4.80" rx="1.3" fill="#111" transform="rotate(-7.8 245.74 546.58)" />
<rect x="246.78" y="551.76" width="4.80" height="4.80" rx="1.3" fill="#111" transform="rotate(-12.8 249.18 554.16)" />
<rect x="250.22" y="559.34" width="4.80" height="4.80" rx="1.3" fill="#111" transform="rotate(-12.5 252.62 561.74)" />
<rect x="253.66" y="566.92" width="4.80" height="4.80" rx="1.3" fill="#111" transform="rotate(-12.6 256.06 569.32)" />
<rect x="257.10" y="574.50" width="4.80" height="4.80" rx="1.3" fill="#111" transform="rotate(-18.6 259.50 576.90)" />
<rect x="136.20" y="596.70" width="4.80" height="4.80" rx="1.3" fill="#111" transform="rotate(-13.5 138.60 599.10)" />
<rect x="141.35" y="606.70" width="4.80" height="4.80" rx="1.3" fill="#111" transform="rotate(-16.6 143.75 609.10)" />
<rect x="146.50" y="616.70" width="4.80" height="4.80" rx="1.3" fill="#111" transform="rotate(-18.8 148.90 619.10)" />
<rect x="146.97" y="594.25" width="4.80" height="4.80" rx="1.3" fill="#111" transform="rotate(-9.2 149.38 596.65)" />
<rect x="152.20" y="604.26" width="4.80" height="4.80" rx="1.3" fill="#111" transform="rotate(-16.7 154.60 606.66)" />
<rect x="157.42" y="614.27" width="4.80" height="4.80" rx="1.3" fill="#111" transform="rotate(-13.1 159.82 616.67)" />
<rect x="157.75" y="591.80" width="4.80" height="4.80" rx="1.3" fill="#111" transform="rotate(-10.1 160.15 594.20)" />
<rect x="163.05" y="601.83" width="4.80" height="4.80" rx="1.3" fill="#111" transform="rotate(-12.1 165.45 604.23)" />
<rect x="168.35" y="611.85" width="4.80" height="4.80" rx="1.3" fill="#111" transform="rotate(-14.9 170.75 614.25)" />
<rect x="168.52" y="589.35" width="4.80" height="4.80" rx="1.3" fill="#111" transform="rotate(-12.6 170.92 591.75)" />
<rect x="173.90" y="599.39" width="4.80" height="4.80" rx="1.3" fill="#111" transform="rotate(-12.1 176.30 601.79)" />
<rect x="179.28" y="609.43" width="4.80" height="4.80" rx="1.3" fill="#111" transform="rotate(-9.4 181.68 611.83)" />
<rect x="179.30" y="586.90" width="4.80" height="4.80" rx="1.3" fill="#111" transform="rotate(-17.5 181.70 589.30)" />
<rect x="184.75" y="596.95" width="4.80" height="4.80" rx="1.3" fill="#111" transform="rotate(-12.1 187.15 599.35)" />
<rect x="190.20" y="607.00" width="4.80" height="4.80" rx="1.3" fill="#111" transform="rotate(-15.8 192.60 609.40)" />
<rect x="196.00" y="574.50" width="4.80" height="4.80" rx="1.3" fill="#111" transform="rotate(-36.9 198.40 576.90)" />
<rect x="201.75" y="581.53" width="4.80" height="4.80" rx="1.3" fill="#111" transform="rotate(-30.9 204.15 583.93)" />
<rect x="207.50" y="588.57" width="4.80" height="4.80" rx="1.3" fill="#111" transform="rotate(-34.1 209.90 590.97)" />
<rect x="213.25" y="595.60" width="4.80" height="4.80" rx="1.3" fill="#111" transform="rotate(-33.4 215.65 598.00)" />
<rect x="219.00" y="602.63" width="4.80" height="4.80" rx="1.3" fill="#111" transform="rotate(-31.1 221.40 605.03)" />
<rect x="224.75" y="609.67" width="4.80" height="4.80" rx="1.3" fill="#111" transform="rotate(-29.2 227.15 612.07)" />
<rect x="230.50" y="616.70" width="4.80" height="4.80" rx="1.3" fill="#111" transform="rotate(-34.9 232.90 619.10)" />
<rect x="202.33" y="570.20" width="4.80" height="4.80" rx="1.3" fill="#111" transform="rotate(-32.8 204.73 572.60)" />
<rect x="207.95" y="577.09" width="4.80" height="4.80" rx="1.3" fill="#111" transform="rotate(-34.1 210.35 579.49)" />
<rect x="213.57" y="583.99" width="4.80" height="4.80" rx="1.3" fill="#111" transform="rotate(-34.0 215.97 586.39)" />
<rect x="219.18" y="590.88" width="4.80" height="4.80" rx="1.3" fill="#111" transform="rotate(-31.9 221.58 593.28)" />
<rect x="224.80" y="597.78" width="4.80" height="4.80" rx="1.3" fill="#111" transform="rotate(-34.7 227.20 600.18)" />
<rect x="230.42" y="604.67" width="4.80" height="4.80" rx="1.3" fill="#111" transform="rotate(-33.8 232.82 607.07)" />
<rect x="236.03" y="611.57" width="4.80" height="4.80" rx="1.3" fill="#111" transform="rotate(-34.4 238.43 613.97)" />
<rect x="208.67" y="565.90" width="4.80" height="4.80" rx="1.3" fill="#111" transform="rotate(-28.9 211.07 568.30)" />
<rect x="214.15" y="572.66" width="4.80" height="4.80" rx="1.3" fill="#111" transform="rotate(-31.8 216.55 575.06)" />
<rect x="219.63" y="579.41" width="4.80" height="4.80" rx="1.3" fill="#111" transform="rotate(-29.7 222.03 581.81)" />
<rect x="225.12" y="586.17" width="4.80" height="4.80" rx="1.3" fill="#111" transform="rotate(-28.9 227.52 588.57)" />
<rect x="230.60" y="592.92" width="4.80" height="4.80" rx="1.3" fill="#111" transform="rotate(-37.1 233.00 595.32)" />
<rect x="236.08" y="599.68" width="4.80" height="4.80" rx="1.3" fill="#111" transform="rotate(-33.5 238.48 602.08)" />
<rect x="241.57" y="606.43" width="4.80" height="4.80" rx="1.3" fill="#111" transform="rotate(-28.9 243.97 608.83)" />
<rect x="215.00" y="561.60" width="4.80" height="4.80" rx="1.3" fill="#111" transform="rotate(-30.1 217.40 564.00)" />
<rect x="220.35" y="568.22" width="4.80" height="4.80" rx="1.3" fill="#111" transform="rotate(-38.5 222.75 570.62)" />
<rect x="225.70" y="574.83" width="4.80" height="4.80" rx="1.3" fill="#111" transform="rotate(-38.7 228.10 577.23)" />
<rect x="231.05" y="581.45" width="4.80" height="4.80" rx="1.3" fill="#111" transform="rotate(-34.9 233.45 583.85)" />
<rect x="236.40" y="588.07" width="4.80" height="4.80" rx="1.3" fill="#111" transform="rotate(-39.3 238.80 590.47)" />
<rect x="241.75" y="594.68" width="4.80" height="4.80" rx="1.3" fill="#111" transform="rotate(-37.3 244.15 597.08)" />
<rect x="247.10" y="601.30" width="4.80" height="4.80" rx="1.3" fill="#111" transform="rotate(-39.3 249.50 603.70)" />
</g>
<path d="M152.9 539.6L138.7 557.0 M161.9 546.0L147.8 562.3 M170.8 552.4L157.0 567.6 M152.9 539.6L170.8 552.4 M145.8 548.3L163.9 560.0 M138.7 557.0L157.0 567.6" stroke="#1ee8f0" stroke-width="1.1" fill="none"/>
<path d="M221.7 543.7L238.9 583.7 M232.0 541.4L249.2 580.3 M242.3 539.0L259.5 576.9 M221.7 543.7L242.3 539.0 M225.1 551.7L245.7 546.6 M228.6 559.7L249.2 554.2 M232.0 567.7L252.6 561.7 M235.5 575.7L256.1 569.3 M238.9 583.7L259.5 576.9" stroke="#1ee8f0" stroke-width="1.1" fill="none"/>
<path d="M138.6 599.1L148.9 619.1 M149.4 596.6L159.8 616.7 M160.1 594.2L170.8 614.2 M170.9 591.8L181.7 611.8 M181.7 589.3L192.6 609.4 M138.6 599.1L181.7 589.3 M143.8 609.1L187.1 599.3 M148.9 619.1L192.6 609.4" stroke="#1ee8f0" stroke-width="1.1" fill="none"/>
<path d="M198.4 576.9L232.9 619.1 M204.7 572.6L238.4 614.0 M211.1 568.3L244.0 608.8 M217.4 564.0L249.5 603.7 M198.4 576.9L217.4 564.0 M204.2 583.9L222.8 570.6 M209.9 591.0L228.1 577.2 M215.7 598.0L233.4 583.9 M221.4 605.0L238.8 590.5 M227.2 612.1L244.2 597.1 M232.9 619.1L249.5 603.7" stroke="#1ee8f0" stroke-width="1.1" fill="none"/>
<rect x="321.05" y="323.05" width="2.90" height="2.90" rx="0.2" fill="#8aa8ff" transform="rotate(60.3 322.50 324.50)" stroke="#141420" stroke-width="1.3"/>
<rect x="353.25" y="326.45" width="2.90" height="2.90" rx="0.2" fill="#8aa8ff" transform="rotate(70.6 354.70 327.90)" stroke="#141420" stroke-width="1.3"/>
<rect x="305.05" y="330.45" width="2.90" height="2.90" rx="0.2" fill="#8aa8ff" transform="rotate(80.7 306.50 331.90)" stroke="#141420" stroke-width="1.3"/>
<rect x="336.05" y="334.75" width="2.90" height="2.90" rx="0.2" fill="#8aa8ff" transform="rotate(13.9 337.50 336.20)" stroke="#141420" stroke-width="1.3"/>
<rect x="321.05" y="343.35" width="2.90" height="2.90" rx="0.2" fill="#8aa8ff" transform="rotate(64.5 322.50 344.80)" stroke="#141420" stroke-width="1.3"/>
<rect x="352.85" y="345.85" width="2.90" height="2.90" rx="0.2" fill="#8aa8ff" transform="rotate(59.4 354.30 347.30)" stroke="#141420" stroke-width="1.3"/>
<rect x="305.05" y="350.55" width="2.90" height="2.90" rx="0.2" fill="#8aa8ff" transform="rotate(12.9 306.50 352.00)" stroke="#141420" stroke-width="1.3"/>
<rect x="336.55" y="354.55" width="2.90" height="2.90" rx="0.2" fill="#8aa8ff" transform="rotate(79.5 338.00 356.00)" stroke="#141420" stroke-width="1.3"/>
<rect x="321.05" y="362.55" width="2.90" height="2.90" rx="0.2" fill="#8aa8ff" transform="rotate(87.1 322.50 364.00)" stroke="#141420" stroke-width="1.3"/>
<rect x="355.45" y="364.85" width="2.90" height="2.90" rx="0.2" fill="#8aa8ff" transform="rotate(19.8 356.90 366.30)" stroke="#141420" stroke-width="1.3"/>
<rect x="302.85" y="368.95" width="2.90" height="2.90" rx="0.2" fill="#8aa8ff" transform="rotate(85.7 304.30 370.40)" stroke="#141420" stroke-width="1.3"/>
<rect x="338.25" y="373.75" width="2.90" height="2.90" rx="0.2" fill="#8aa8ff" transform="rotate(35.8 339.70 375.20)" stroke="#141420" stroke-width="1.3"/>
<rect x="318.25" y="379.75" width="2.90" height="2.90" rx="0.2" fill="#8aa8ff" transform="rotate(43.9 319.70 381.20)" stroke="#141420" stroke-width="1.3"/>
<rect x="299.85" y="386.35" width="2.90" height="2.90" rx="0.2" fill="#8aa8ff" transform="rotate(89.1 301.30 387.80)" stroke="#141420" stroke-width="1.3"/>
<rect x="356.85" y="384.05" width="2.90" height="2.90" rx="0.2" fill="#8aa8ff" transform="rotate(74.9 358.30 385.50)" stroke="#141420" stroke-width="1.3"/>
<rect x="404.25" y="331.65" width="2.90" height="2.90" rx="0.2" fill="#8aa8ff" transform="rotate(14.5 405.70 333.10)" stroke="#141420" stroke-width="1.3"/>
<rect x="367.65" y="337.25" width="2.90" height="2.90" rx="0.2" fill="#8aa8ff" transform="rotate(38.8 369.10 338.70)" stroke="#141420" stroke-width="1.3"/>
<rect x="385.05" y="338.15" width="2.90" height="2.90" rx="0.2" fill="#8aa8ff" transform="rotate(46.4 386.50 339.60)" stroke="#141420" stroke-width="1.3"/>
<rect x="400.85" y="348.85" width="2.90" height="2.90" rx="0.2" fill="#8aa8ff" transform="rotate(30.5 402.30 350.30)" stroke="#141420" stroke-width="1.3"/>
<rect x="371.65" y="353.65" width="2.90" height="2.90" rx="0.2" fill="#8aa8ff" transform="rotate(17.6 373.10 355.10)" stroke="#141420" stroke-width="1.3"/>
<rect x="388.85" y="358.65" width="2.90" height="2.90" rx="0.2" fill="#8aa8ff" transform="rotate(28.7 390.30 360.10)" stroke="#141420" stroke-width="1.3"/>
<rect x="373.35" y="372.05" width="2.90" height="2.90" rx="0.2" fill="#8aa8ff" transform="rotate(65.0 374.80 373.50)" stroke="#141420" stroke-width="1.3"/>
<rect x="393.45" y="376.35" width="2.90" height="2.90" rx="0.2" fill="#8aa8ff" transform="rotate(1.8 394.90 377.80)" stroke="#141420" stroke-width="1.3"/>
<rect x="377.65" y="389.55" width="2.90" height="2.90" rx="0.2" fill="#8aa8ff" transform="rotate(49.9 379.10 391.00)" stroke="#141420" stroke-width="1.3"/>
<rect x="333.45" y="390.95" width="2.90" height="2.90" rx="0.2" fill="#8aa8ff" transform="rotate(39.6 334.90 392.40)" stroke="#141420" stroke-width="1.3"/>
<rect x="315.35" y="398.15" width="2.90" height="2.90" rx="0.2" fill="#8aa8ff" transform="rotate(1.6 316.80 399.60)" stroke="#141420" stroke-width="1.3"/>
<rect x="348.05" y="399.15" width="2.90" height="2.90" rx="0.2" fill="#8aa8ff" transform="rotate(29.8 349.50 400.60)" stroke="#141420" stroke-width="1.3"/>
<rect x="296.95" y="405.55" width="2.90" height="2.90" rx="0.2" fill="#8aa8ff" transform="rotate(56.2 298.40 407.00)" stroke="#141420" stroke-width="1.3"/>
<rect x="396.55" y="396.05" width="2.90" height="2.90" rx="0.2" fill="#8aa8ff" transform="rotate(46.1 398.00 397.50)" stroke="#141420" stroke-width="1.3"/>
<rect x="364.75" y="403.85" width="2.90" height="2.90" rx="0.2" fill="#8aa8ff" transform="rotate(5.8 366.20 405.30)" stroke="#141420" stroke-width="1.3"/>
<rect x="290.00" y="340.00" width="1.20" height="2.00" fill="#222" />
<rect x="372.00" y="322.80" width="3.00" height="0.90" fill="#222" />
<rect x="332.00" y="410.00" width="3.50" height="0.90" fill="#222" />
<path d="M382 410.5 L384.2 408.6 L386.4 410.5" stroke="#222" stroke-width="0.9" fill="none"/>
<clipPath id="gclip"><rect x="286.5" y="424" width="126" height="93"/></clipPath><g clip-path="url(#gclip)">
<rect x="292.20" y="430.60" width="3.60" height="3.60" rx="0.3" fill="#fff" transform="rotate(15.0 294.00 432.40)" stroke="#111" stroke-width="1.4"/>
<rect x="305.60" y="430.60" width="3.60" height="3.60" rx="0.3" fill="#fff" transform="rotate(5.0 307.40 432.40)" stroke="#111" stroke-width="1.4"/>
<rect x="319.30" y="430.60" width="3.60" height="3.60" rx="0.3" fill="#fff" transform="rotate(5.0 321.10 432.40)" stroke="#111" stroke-width="1.4"/>
<rect x="333.40" y="430.60" width="3.60" height="3.60" rx="0.3" fill="#fff" transform="rotate(20.0 335.20 432.40)" stroke="#111" stroke-width="1.4"/>
<rect x="348.20" y="430.60" width="3.60" height="3.60" rx="0.3" fill="#fff" transform="rotate(20.0 350.00 432.40)" stroke="#111" stroke-width="1.4"/>
<rect x="361.50" y="430.60" width="3.60" height="3.60" rx="0.3" fill="#fff" transform="rotate(0.0 363.30 432.40)" stroke="#111" stroke-width="1.4"/>
<rect x="375.60" y="430.60" width="3.60" height="3.60" rx="0.3" fill="#fff" transform="rotate(10.0 377.40 432.40)" stroke="#111" stroke-width="1.4"/>
<rect x="389.30" y="430.60" width="3.60" height="3.60" rx="0.3" fill="#fff" transform="rotate(20.0 391.10 432.40)" stroke="#111" stroke-width="1.4"/>
<rect x="403.90" y="430.60" width="3.60" height="3.60" rx="0.3" fill="#fff" transform="rotate(10.0 405.70 432.40)" stroke="#111" stroke-width="1.4"/>
<rect x="285.80" y="443.60" width="3.60" height="3.60" rx="0.3" fill="#fff" transform="rotate(45.0 287.60 445.40)" stroke="#111" stroke-width="1.4"/>
<rect x="299.50" y="443.60" width="3.60" height="3.60" rx="0.3" fill="#fff" transform="rotate(20.0 301.30 445.40)" stroke="#111" stroke-width="1.4"/>
<rect x="313.80" y="443.60" width="3.60" height="3.60" rx="0.3" fill="#fff" transform="rotate(45.0 315.60 445.40)" stroke="#111" stroke-width="1.4"/>
<rect x="327.90" y="443.60" width="3.60" height="3.60" rx="0.3" fill="#fff" transform="rotate(10.0 329.70 445.40)" stroke="#111" stroke-width="1.4"/>
<rect x="341.70" y="443.60" width="3.60" height="3.60" rx="0.3" fill="#fff" transform="rotate(-10.0 343.50 445.40)" stroke="#111" stroke-width="1.4"/>
<rect x="355.20" y="443.60" width="3.60" height="3.60" rx="0.3" fill="#fff" transform="rotate(30.0 357.00 445.40)" stroke="#111" stroke-width="1.4"/>
<rect x="369.50" y="443.60" width="3.60" height="3.60" rx="0.3" fill="#fff" transform="rotate(5.0 371.30 445.40)" stroke="#111" stroke-width="1.4"/>
<rect x="383.80" y="443.60" width="3.60" height="3.60" rx="0.3" fill="#fff" transform="rotate(20.0 385.60 445.40)" stroke="#111" stroke-width="1.4"/>
<rect x="397.60" y="443.60" width="3.60" height="3.60" rx="0.3" fill="#fff" transform="rotate(0.0 399.40 445.40)" stroke="#111" stroke-width="1.4"/>
<rect x="294.40" y="455.40" width="3.60" height="3.60" rx="0.3" fill="#fff" transform="rotate(10.0 296.20 457.20)" stroke="#111" stroke-width="1.4"/>
<rect x="308.20" y="455.40" width="3.60" height="3.60" rx="0.3" fill="#fff" transform="rotate(45.0 310.00 457.20)" stroke="#111" stroke-width="1.4"/>
<rect x="321.00" y="455.40" width="3.60" height="3.60" rx="0.3" fill="#fff" transform="rotate(5.0 322.80 457.20)" stroke="#111" stroke-width="1.4"/>
<rect x="334.50" y="455.40" width="3.60" height="3.60" rx="0.3" fill="#fff" transform="rotate(20.0 336.30 457.20)" stroke="#111" stroke-width="1.4"/>
<rect x="348.20" y="455.40" width="3.60" height="3.60" rx="0.3" fill="#fff" transform="rotate(0.0 350.00 457.20)" stroke="#111" stroke-width="1.4"/>
<rect x="362.70" y="455.40" width="3.60" height="3.60" rx="0.3" fill="#fff" transform="rotate(5.0 364.50 457.20)" stroke="#111" stroke-width="1.4"/>
<rect x="376.40" y="455.40" width="3.60" height="3.60" rx="0.3" fill="#fff" transform="rotate(20.0 378.20 457.20)" stroke="#111" stroke-width="1.4"/>
<rect x="391.00" y="455.40" width="3.60" height="3.60" rx="0.3" fill="#fff" transform="rotate(5.0 392.80 457.20)" stroke="#111" stroke-width="1.4"/>
<rect x="406.20" y="455.40" width="3.60" height="3.60" rx="0.3" fill="#fff" transform="rotate(15.0 408.00 457.20)" stroke="#111" stroke-width="1.4"/>
<rect x="286.30" y="468.00" width="3.60" height="3.60" rx="0.3" fill="#fff" transform="rotate(5.0 288.10 469.80)" stroke="#111" stroke-width="1.4"/>
<rect x="301.20" y="468.00" width="3.60" height="3.60" rx="0.3" fill="#fff" transform="rotate(20.0 303.00 469.80)" stroke="#111" stroke-width="1.4"/>
<rect x="315.50" y="468.00" width="3.60" height="3.60" rx="0.3" fill="#fff" transform="rotate(5.0 317.30 469.80)" stroke="#111" stroke-width="1.4"/>
<rect x="329.60" y="468.00" width="3.60" height="3.60" rx="0.3" fill="#fff" transform="rotate(-10.0 331.40 469.80)" stroke="#111" stroke-width="1.4"/>
<rect x="343.10" y="468.00" width="3.60" height="3.60" rx="0.3" fill="#fff" transform="rotate(0.0 344.90 469.80)" stroke="#111" stroke-width="1.4"/>
<rect x="356.60" y="468.00" width="3.60" height="3.60" rx="0.3" fill="#fff" transform="rotate(30.0 358.40 469.80)" stroke="#111" stroke-width="1.4"/>
<rect x="370.40" y="468.00" width="3.60" height="3.60" rx="0.3" fill="#fff" transform="rotate(45.0 372.20 469.80)" stroke="#111" stroke-width="1.4"/>
<rect x="384.50" y="468.00" width="3.60" height="3.60" rx="0.3" fill="#fff" transform="rotate(20.0 386.30 469.80)" stroke="#111" stroke-width="1.4"/>
<rect x="399.60" y="468.00" width="3.60" height="3.60" rx="0.3" fill="#fff" transform="rotate(10.0 401.40 469.80)" stroke="#111" stroke-width="1.4"/>
<rect x="295.20" y="480.40" width="3.60" height="3.60" rx="0.3" fill="#fff" transform="rotate(0.0 297.00 482.20)" stroke="#111" stroke-width="1.4"/>
<rect x="309.00" y="480.40" width="3.60" height="3.60" rx="0.3" fill="#fff" transform="rotate(15.0 310.80 482.20)" stroke="#111" stroke-width="1.4"/>
<rect x="323.10" y="480.40" width="3.60" height="3.60" rx="0.3" fill="#fff" transform="rotate(5.0 324.90 482.20)" stroke="#111" stroke-width="1.4"/>
<rect x="336.90" y="480.40" width="3.60" height="3.60" rx="0.3" fill="#fff" transform="rotate(10.0 338.70 482.20)" stroke="#111" stroke-width="1.4"/>
<rect x="351.20" y="480.40" width="3.60" height="3.60" rx="0.3" fill="#fff" transform="rotate(20.0 353.00 482.20)" stroke="#111" stroke-width="1.4"/>
<rect x="365.20" y="480.40" width="3.60" height="3.60" rx="0.3" fill="#fff" transform="rotate(0.0 367.00 482.20)" stroke="#111" stroke-width="1.4"/>
<rect x="379.30" y="480.40" width="3.60" height="3.60" rx="0.3" fill="#fff" transform="rotate(10.0 381.10 482.20)" stroke="#111" stroke-width="1.4"/>
<rect x="393.10" y="480.40" width="3.60" height="3.60" rx="0.3" fill="#fff" transform="rotate(15.0 394.90 482.20)" stroke="#111" stroke-width="1.4"/>
<rect x="407.90" y="480.40" width="3.60" height="3.60" rx="0.3" fill="#fff" transform="rotate(20.0 409.70 482.20)" stroke="#111" stroke-width="1.4"/>
<rect x="288.00" y="492.80" width="3.60" height="3.60" rx="0.3" fill="#fff" transform="rotate(20.0 289.80 494.60)" stroke="#111" stroke-width="1.4"/>
<rect x="301.80" y="492.80" width="3.60" height="3.60" rx="0.3" fill="#fff" transform="rotate(15.0 303.60 494.60)" stroke="#111" stroke-width="1.4"/>
<rect x="316.20" y="492.80" width="3.60" height="3.60" rx="0.3" fill="#fff" transform="rotate(20.0 318.00 494.60)" stroke="#111" stroke-width="1.4"/>
<rect x="331.00" y="492.80" width="3.60" height="3.60" rx="0.3" fill="#fff" transform="rotate(-10.0 332.80 494.60)" stroke="#111" stroke-width="1.4"/>
<rect x="345.10" y="492.80" width="3.60" height="3.60" rx="0.3" fill="#fff" transform="rotate(10.0 346.90 494.60)" stroke="#111" stroke-width="1.4"/>
<rect x="359.20" y="492.80" width="3.60" height="3.60" rx="0.3" fill="#fff" transform="rotate(20.0 361.00 494.60)" stroke="#111" stroke-width="1.4"/>
<rect x="373.00" y="492.80" width="3.60" height="3.60" rx="0.3" fill="#fff" transform="rotate(30.0 374.80 494.60)" stroke="#111" stroke-width="1.4"/>
<rect x="387.00" y="492.80" width="3.60" height="3.60" rx="0.3" fill="#fff" transform="rotate(0.0 388.80 494.60)" stroke="#111" stroke-width="1.4"/>
<rect x="400.50" y="492.80" width="3.60" height="3.60" rx="0.3" fill="#fff" transform="rotate(20.0 402.30 494.60)" stroke="#111" stroke-width="1.4"/>
<rect x="293.50" y="505.30" width="3.60" height="3.60" rx="0.3" fill="#fff" transform="rotate(0.0 295.30 507.10)" stroke="#111" stroke-width="1.4"/>
<rect x="308.70" y="505.30" width="3.60" height="3.60" rx="0.3" fill="#fff" transform="rotate(0.0 310.50 507.10)" stroke="#111" stroke-width="1.4"/>
<rect x="323.60" y="505.30" width="3.60" height="3.60" rx="0.3" fill="#fff" transform="rotate(0.0 325.40 507.10)" stroke="#111" stroke-width="1.4"/>
<rect x="338.60" y="505.30" width="3.60" height="3.60" rx="0.3" fill="#fff" transform="rotate(15.0 340.40 507.10)" stroke="#111" stroke-width="1.4"/>
<rect x="352.70" y="505.30" width="3.60" height="3.60" rx="0.3" fill="#fff" transform="rotate(-10.0 354.50 507.10)" stroke="#111" stroke-width="1.4"/>
<rect x="365.60" y="505.30" width="3.60" height="3.60" rx="0.3" fill="#fff" transform="rotate(15.0 367.40 507.10)" stroke="#111" stroke-width="1.4"/>
<rect x="379.30" y="505.30" width="3.60" height="3.60" rx="0.3" fill="#fff" transform="rotate(-10.0 381.10 507.10)" stroke="#111" stroke-width="1.4"/>
<rect x="393.20" y="505.30" width="3.60" height="3.60" rx="0.3" fill="#fff" transform="rotate(5.0 395.00 507.10)" stroke="#111" stroke-width="1.4"/>
<rect x="407.40" y="505.30" width="3.60" height="3.60" rx="0.3" fill="#fff" transform="rotate(45.0 409.20 507.10)" stroke="#111" stroke-width="1.4"/>
</g>
<rect x="411.30" y="444.50" width="1.00" height="2.50" fill="#222" />
<path d="M300.2 517 L302 515.3 L303.8 517" stroke="#222" stroke-width="0.9" fill="none"/>
<path d="M316.2 517 L318 515.3 L319.8 517" stroke="#222" stroke-width="0.9" fill="none"/>
<path d="M331.7 517 L333.5 515.3 L335.3 517" stroke="#222" stroke-width="0.9" fill="none"/>
<clipPath id="iclip"><rect x="284.5" y="535.5" width="127" height="94"/></clipPath><g clip-path="url(#iclip)">
<rect x="310.60" y="533.70" width="5.60" height="5.60" rx="0.5" fill="#c4c4c4" transform="rotate(14.2 313.40 536.50)" stroke="#141414" stroke-width="1.25"/>
<rect x="324.20" y="533.70" width="5.60" height="5.60" rx="0.5" fill="#c4c4c4" transform="rotate(12.3 327.00 536.50)" stroke="#141414" stroke-width="1.25"/>
<rect x="338.20" y="533.70" width="5.60" height="5.60" rx="0.5" fill="#c4c4c4" transform="rotate(18.1 341.00 536.50)" stroke="#141414" stroke-width="1.25"/>
<rect x="351.90" y="533.70" width="5.60" height="5.60" rx="0.5" fill="#c4c4c4" transform="rotate(19.5 354.70 536.50)" stroke="#141414" stroke-width="1.25"/>
<rect x="295.10" y="537.20" width="5.60" height="5.60" rx="0.5" fill="#c4c4c4" transform="rotate(8.2 297.90 540.00)" stroke="#141414" stroke-width="1.25"/>
<rect x="283.60" y="543.00" width="5.60" height="5.60" rx="0.5" fill="#c4c4c4" transform="rotate(6.7 286.40 545.80)" stroke="#141414" stroke-width="1.25"/>
<rect x="306.20" y="544.40" width="5.60" height="5.60" rx="0.5" fill="#c4c4c4" transform="rotate(6.9 309.00 547.20)" stroke="#141414" stroke-width="1.25"/>
<rect x="318.30" y="544.40" width="5.60" height="5.60" rx="0.5" fill="#c4c4c4" transform="rotate(6.4 321.10 547.20)" stroke="#141414" stroke-width="1.25"/>
<rect x="330.90" y="544.40" width="5.60" height="5.60" rx="0.5" fill="#c4c4c4" transform="rotate(18.0 333.70 547.20)" stroke="#141414" stroke-width="1.25"/>
<rect x="342.40" y="544.40" width="5.60" height="5.60" rx="0.5" fill="#c4c4c4" transform="rotate(15.4 345.20 547.20)" stroke="#141414" stroke-width="1.25"/>
<rect x="355.00" y="544.40" width="5.60" height="5.60" rx="0.5" fill="#c4c4c4" transform="rotate(5.4 357.80 547.20)" stroke="#141414" stroke-width="1.25"/>
<rect x="367.30" y="544.40" width="5.60" height="5.60" rx="0.5" fill="#c4c4c4" transform="rotate(19.8 370.10 547.20)" stroke="#141414" stroke-width="1.25"/>
<rect x="379.40" y="544.40" width="5.60" height="5.60" rx="0.5" fill="#c4c4c4" transform="rotate(19.7 382.20 547.20)" stroke="#141414" stroke-width="1.25"/>
<rect x="392.10" y="540.10" width="5.60" height="5.60" rx="0.5" fill="#c4c4c4" transform="rotate(17.2 394.90 542.90)" stroke="#141414" stroke-width="1.25"/>
<rect x="403.80" y="535.50" width="5.60" height="5.60" rx="0.5" fill="#c4c4c4" transform="rotate(3.2 406.60 538.30)" stroke="#141414" stroke-width="1.25"/>
<rect x="292.50" y="550.40" width="5.60" height="5.60" rx="0.5" fill="#c4c4c4" transform="rotate(13.6 295.30 553.20)" stroke="#141414" stroke-width="1.25"/>
<rect x="303.70" y="558.20" width="5.60" height="5.60" rx="0.5" fill="#c4c4c4" transform="rotate(18.0 306.50 561.00)" stroke="#141414" stroke-width="1.25"/>
<rect x="316.60" y="558.20" width="5.60" height="5.60" rx="0.5" fill="#c4c4c4" transform="rotate(10.3 319.40 561.00)" stroke="#141414" stroke-width="1.25"/>
<rect x="329.50" y="558.20" width="5.60" height="5.60" rx="0.5" fill="#c4c4c4" transform="rotate(3.9 332.30 561.00)" stroke="#141414" stroke-width="1.25"/>
<rect x="342.40" y="558.20" width="5.60" height="5.60" rx="0.5" fill="#c4c4c4" transform="rotate(14.3 345.20 561.00)" stroke="#141414" stroke-width="1.25"/>
<rect x="354.70" y="558.20" width="5.60" height="5.60" rx="0.5" fill="#c4c4c4" transform="rotate(9.5 357.50 561.00)" stroke="#141414" stroke-width="1.25"/>
<rect x="367.30" y="558.20" width="5.60" height="5.60" rx="0.5" fill="#c4c4c4" transform="rotate(11.6 370.10 561.00)" stroke="#141414" stroke-width="1.25"/>
<rect x="379.70" y="556.80" width="5.60" height="5.60" rx="0.5" fill="#c4c4c4" transform="rotate(19.5 382.50 559.60)" stroke="#141414" stroke-width="1.25"/>
<rect x="393.20" y="553.00" width="5.60" height="5.60" rx="0.5" fill="#c4c4c4" transform="rotate(13.2 396.00 555.80)" stroke="#141414" stroke-width="1.25"/>
<rect x="404.70" y="548.70" width="5.60" height="5.60" rx="0.5" fill="#c4c4c4" transform="rotate(14.8 407.50 551.50)" stroke="#141414" stroke-width="1.25"/>
<rect x="289.10" y="563.30" width="5.60" height="5.60" rx="0.5" fill="#c4c4c4" transform="rotate(3.8 291.90 566.10)" stroke="#141414" stroke-width="1.25"/>
<rect x="300.80" y="571.60" width="5.60" height="5.60" rx="0.5" fill="#c4c4c4" transform="rotate(6.2 303.60 574.40)" stroke="#141414" stroke-width="1.25"/>
<rect x="313.50" y="571.60" width="5.60" height="5.60" rx="0.5" fill="#c4c4c4" transform="rotate(7.6 316.30 574.40)" stroke="#141414" stroke-width="1.25"/>
<rect x="326.60" y="571.60" width="5.60" height="5.60" rx="0.5" fill="#c4c4c4" transform="rotate(3.1 329.40 574.40)" stroke="#141414" stroke-width="1.25"/>
<rect x="339.80" y="571.60" width="5.60" height="5.60" rx="0.5" fill="#c4c4c4" transform="rotate(9.2 342.60 574.40)" stroke="#141414" stroke-width="1.25"/>
<rect x="353.50" y="571.60" width="5.60" height="5.60" rx="0.5" fill="#c4c4c4" transform="rotate(8.6 356.30 574.40)" stroke="#141414" stroke-width="1.25"/>
<rect x="366.00" y="571.60" width="5.60" height="5.60" rx="0.5" fill="#c4c4c4" transform="rotate(19.7 368.80 574.40)" stroke="#141414" stroke-width="1.25"/>
<rect x="378.90" y="569.30" width="5.60" height="5.60" rx="0.5" fill="#c4c4c4" transform="rotate(8.5 381.70 572.10)" stroke="#141414" stroke-width="1.25"/>
<rect x="392.60" y="566.40" width="5.60" height="5.60" rx="0.5" fill="#c4c4c4" transform="rotate(3.6 395.40 569.20)" stroke="#141414" stroke-width="1.25"/>
<rect x="405.50" y="561.60" width="5.60" height="5.60" rx="0.5" fill="#c4c4c4" transform="rotate(18.0 408.30 564.40)" stroke="#141414" stroke-width="1.25"/>
<rect x="285.60" y="576.20" width="5.60" height="5.60" rx="0.5" fill="#c4c4c4" transform="rotate(6.7 288.40 579.00)" stroke="#141414" stroke-width="1.25"/>
<rect x="296.80" y="584.20" width="5.60" height="5.60" rx="0.5" fill="#c4c4c4" transform="rotate(6.1 299.60 587.00)" stroke="#141414" stroke-width="1.25"/>
<rect x="309.70" y="584.20" width="5.60" height="5.60" rx="0.5" fill="#c4c4c4" transform="rotate(8.7 312.50 587.00)" stroke="#141414" stroke-width="1.25"/>
<rect x="323.20" y="584.20" width="5.60" height="5.60" rx="0.5" fill="#c4c4c4" transform="rotate(4.4 326.00 587.00)" stroke="#141414" stroke-width="1.25"/>
<rect x="335.90" y="584.20" width="5.60" height="5.60" rx="0.5" fill="#c4c4c4" transform="rotate(7.7 338.70 587.00)" stroke="#141414" stroke-width="1.25"/>
<rect x="349.30" y="584.20" width="5.60" height="5.60" rx="0.5" fill="#c4c4c4" transform="rotate(14.2 352.10 587.00)" stroke="#141414" stroke-width="1.25"/>
<rect x="362.20" y="584.90" width="5.60" height="5.60" rx="0.5" fill="#c4c4c4" transform="rotate(7.2 365.00 587.70)" stroke="#141414" stroke-width="1.25"/>
<rect x="375.10" y="584.10" width="5.60" height="5.60" rx="0.5" fill="#c4c4c4" transform="rotate(16.2 377.90 586.90)" stroke="#141414" stroke-width="1.25"/>
<rect x="388.00" y="580.60" width="5.60" height="5.60" rx="0.5" fill="#c4c4c4" transform="rotate(4.5 390.80 583.40)" stroke="#141414" stroke-width="1.25"/>
<rect x="400.40" y="577.20" width="5.60" height="5.60" rx="0.5" fill="#c4c4c4" transform="rotate(16.9 403.20 580.00)" stroke="#141414" stroke-width="1.25"/>
<rect x="283.60" y="589.20" width="5.60" height="5.60" rx="0.5" fill="#c4c4c4" transform="rotate(5.4 286.40 592.00)" stroke="#141414" stroke-width="1.25"/>
<rect x="292.90" y="597.50" width="5.60" height="5.60" rx="0.5" fill="#c4c4c4" transform="rotate(13.0 295.70 600.30)" stroke="#141414" stroke-width="1.25"/>
<rect x="305.90" y="597.50" width="5.60" height="5.60" rx="0.5" fill="#c4c4c4" transform="rotate(9.7 308.70 600.30)" stroke="#141414" stroke-width="1.25"/>
<rect x="318.70" y="597.50" width="5.60" height="5.60" rx="0.5" fill="#c4c4c4" transform="rotate(8.1 321.50 600.30)" stroke="#141414" stroke-width="1.25"/>
<rect x="331.70" y="597.50" width="5.60" height="5.60" rx="0.5" fill="#c4c4c4" transform="rotate(13.7 334.50 600.30)" stroke="#141414" stroke-width="1.25"/>
<rect x="344.50" y="597.50" width="5.60" height="5.60" rx="0.5" fill="#c4c4c4" transform="rotate(4.4 347.30 600.30)" stroke="#141414" stroke-width="1.25"/>
<rect x="357.00" y="598.20" width="5.60" height="5.60" rx="0.5" fill="#c4c4c4" transform="rotate(19.3 359.80 601.00)" stroke="#141414" stroke-width="1.25"/>
<rect x="369.70" y="598.20" width="5.60" height="5.60" rx="0.5" fill="#c4c4c4" transform="rotate(17.5 372.50 601.00)" stroke="#141414" stroke-width="1.25"/>
<rect x="382.80" y="595.80" width="5.60" height="5.60" rx="0.5" fill="#c4c4c4" transform="rotate(5.6 385.60 598.60)" stroke="#141414" stroke-width="1.25"/>
<rect x="395.20" y="592.30" width="5.60" height="5.60" rx="0.5" fill="#c4c4c4" transform="rotate(18.2 398.00 595.10)" stroke="#141414" stroke-width="1.25"/>
<rect x="406.90" y="588.40" width="5.60" height="5.60" rx="0.5" fill="#c4c4c4" transform="rotate(16.3 409.70 591.20)" stroke="#141414" stroke-width="1.25"/>
<rect x="289.10" y="610.70" width="5.60" height="5.60" rx="0.5" fill="#c4c4c4" transform="rotate(13.1 291.90 613.50)" stroke="#141414" stroke-width="1.25"/>
<rect x="302.00" y="610.70" width="5.60" height="5.60" rx="0.5" fill="#c4c4c4" transform="rotate(16.0 304.80 613.50)" stroke="#141414" stroke-width="1.25"/>
<rect x="314.50" y="610.70" width="5.60" height="5.60" rx="0.5" fill="#c4c4c4" transform="rotate(15.3 317.30 613.50)" stroke="#141414" stroke-width="1.25"/>
<rect x="327.30" y="610.70" width="5.60" height="5.60" rx="0.5" fill="#c4c4c4" transform="rotate(11.4 330.10 613.50)" stroke="#141414" stroke-width="1.25"/>
<rect x="339.80" y="610.70" width="5.60" height="5.60" rx="0.5" fill="#c4c4c4" transform="rotate(7.8 342.60 613.50)" stroke="#141414" stroke-width="1.25"/>
<rect x="352.80" y="611.60" width="5.60" height="5.60" rx="0.5" fill="#c4c4c4" transform="rotate(13.5 355.60 614.40)" stroke="#141414" stroke-width="1.25"/>
<rect x="365.10" y="612.00" width="5.60" height="5.60" rx="0.5" fill="#c4c4c4" transform="rotate(5.5 367.90 614.80)" stroke="#141414" stroke-width="1.25"/>
<rect x="377.70" y="610.20" width="5.60" height="5.60" rx="0.5" fill="#c4c4c4" transform="rotate(17.0 380.50 613.00)" stroke="#141414" stroke-width="1.25"/>
<rect x="390.00" y="607.30" width="5.60" height="5.60" rx="0.5" fill="#c4c4c4" transform="rotate(15.2 392.80 610.10)" stroke="#141414" stroke-width="1.25"/>
<rect x="402.40" y="603.90" width="5.60" height="5.60" rx="0.5" fill="#c4c4c4" transform="rotate(11.7 405.20 606.70)" stroke="#141414" stroke-width="1.25"/>
<rect x="284.80" y="623.20" width="5.60" height="5.60" rx="0.5" fill="#c4c4c4" transform="rotate(10.3 287.60 626.00)" stroke="#141414" stroke-width="1.25"/>
<rect x="297.70" y="622.80" width="5.60" height="5.60" rx="0.5" fill="#c4c4c4" transform="rotate(14.9 300.50 625.60)" stroke="#141414" stroke-width="1.25"/>
<rect x="310.60" y="622.80" width="5.60" height="5.60" rx="0.5" fill="#c4c4c4" transform="rotate(11.6 313.40 625.60)" stroke="#141414" stroke-width="1.25"/>
<rect x="323.50" y="622.80" width="5.60" height="5.60" rx="0.5" fill="#c4c4c4" transform="rotate(18.5 326.30 625.60)" stroke="#141414" stroke-width="1.25"/>
<rect x="336.40" y="622.80" width="5.60" height="5.60" rx="0.5" fill="#c4c4c4" transform="rotate(15.8 339.20 625.60)" stroke="#141414" stroke-width="1.25"/>
<rect x="348.40" y="622.80" width="5.60" height="5.60" rx="0.5" fill="#c4c4c4" transform="rotate(12.7 351.20 625.60)" stroke="#141414" stroke-width="1.25"/>
<rect x="360.50" y="624.00" width="5.60" height="5.60" rx="0.5" fill="#c4c4c4" transform="rotate(16.8 363.30 626.80)" stroke="#141414" stroke-width="1.25"/>
<rect x="372.80" y="623.60" width="5.60" height="5.60" rx="0.5" fill="#c4c4c4" transform="rotate(3.3 375.60 626.40)" stroke="#141414" stroke-width="1.25"/>
<rect x="385.20" y="621.60" width="5.60" height="5.60" rx="0.5" fill="#c4c4c4" transform="rotate(14.7 388.00 624.40)" stroke="#141414" stroke-width="1.25"/>
<rect x="397.30" y="618.50" width="5.60" height="5.60" rx="0.5" fill="#c4c4c4" transform="rotate(16.6 400.10 621.30)" stroke="#141414" stroke-width="1.25"/>
<rect x="407.20" y="614.20" width="5.60" height="5.60" rx="0.5" fill="#c4c4c4" transform="rotate(15.1 410.00 617.00)" stroke="#141414" stroke-width="1.25"/>
</g>
</svg>
</body></html>
